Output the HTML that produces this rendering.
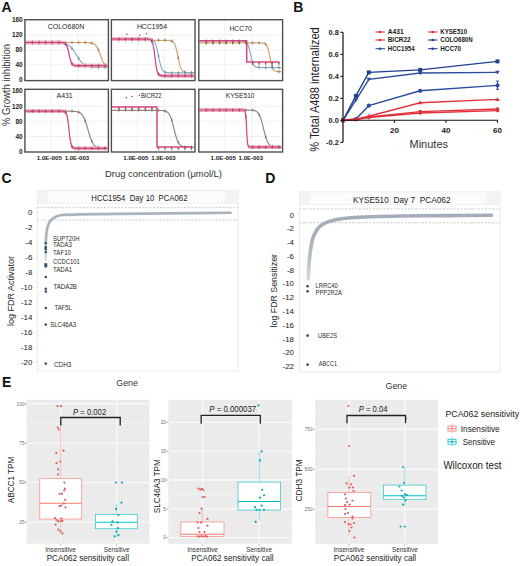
<!DOCTYPE html>
<html><head><meta charset="utf-8"><style>
html,body{margin:0;padding:0;background:#fff;}
svg{display:block;font-family:"Liberation Sans", sans-serif;}
</style></head><body>
<svg width="520" height="566" viewBox="0 0 520 566">
<rect width="520" height="566" fill="#fff"/>
<text x="1.6" y="11.8" font-size="14" font-weight="bold" fill="#111">A</text>
<line x1="24.9" y1="64.9" x2="108.4" y2="64.9" stroke="#f3eaea" stroke-width="0.8"/>
<line x1="24.9" y1="50.0" x2="108.4" y2="50.0" stroke="#f3eaea" stroke-width="0.8"/>
<line x1="24.9" y1="35.0" x2="108.4" y2="35.0" stroke="#f3eaea" stroke-width="0.8"/>
<line x1="50.9" y1="19.7" x2="50.9" y2="80.6" stroke="#eeeeee" stroke-width="0.8"/>
<line x1="77.9" y1="19.7" x2="77.9" y2="80.6" stroke="#eeeeee" stroke-width="0.8"/>
<path d="M25.4,42.5 L25.9,42.5 L26.4,42.5 L26.9,42.5 L27.4,42.5 L27.9,42.5 L28.4,42.5 L28.9,42.5 L29.4,42.5 L29.9,42.5 L30.4,42.5 L30.9,42.5 L31.4,42.5 L31.9,42.5 L32.4,42.5 L32.9,42.5 L33.4,42.5 L33.9,42.5 L34.4,42.5 L34.9,42.5 L35.4,42.5 L35.9,42.5 L36.4,42.5 L36.9,42.5 L37.4,42.5 L37.9,42.5 L38.4,42.5 L38.9,42.5 L39.4,42.5 L39.9,42.5 L40.4,42.5 L40.9,42.5 L41.4,42.5 L41.9,42.5 L42.4,42.5 L42.9,42.5 L43.4,42.5 L43.9,42.5 L44.4,42.5 L44.9,42.5 L45.4,42.5 L45.9,42.5 L46.4,42.5 L46.9,42.5 L47.4,42.5 L47.9,42.5 L48.4,42.5 L48.9,42.5 L49.4,42.5 L49.9,42.5 L50.4,42.5 L50.9,42.5 L51.4,42.5 L51.9,42.5 L52.4,42.5 L52.9,42.5 L53.4,42.5 L53.9,42.5 L54.4,42.5 L54.9,42.5 L55.4,42.5 L55.9,42.5 L56.4,42.5 L56.9,42.5 L57.4,42.5 L57.9,42.5 L58.4,42.5 L58.9,42.5 L59.4,42.5 L59.9,42.5 L60.4,42.5 L60.9,42.5 L61.4,42.5 L61.9,42.5 L62.4,42.5 L62.9,42.5 L63.4,42.5 L63.9,42.5 L64.4,42.5 L64.9,42.5 L65.4,42.5 L65.9,42.5 L66.4,42.5 L66.9,42.5 L67.4,42.5 L67.9,42.5 L68.4,42.5 L68.9,42.5 L69.4,42.5 L69.9,42.5 L70.4,42.5 L70.9,42.5 L71.4,42.5 L71.9,42.5 L72.4,42.5 L72.9,42.5 L73.4,42.5 L73.9,42.5 L74.4,42.5 L74.9,42.5 L75.4,42.5 L75.9,42.5 L76.4,42.5 L76.9,42.5 L77.4,42.5 L77.9,42.5 L78.4,42.5 L78.9,42.5 L79.4,42.5 L79.9,42.5 L80.4,42.5 L80.9,42.5 L81.4,42.5 L81.9,42.5 L82.4,42.5 L82.9,42.5 L83.4,42.5 L83.9,42.5 L84.4,42.5 L84.9,42.5 L85.4,42.5 L85.9,42.6 L86.4,42.6 L86.9,42.6 L87.4,42.6 L87.9,42.6 L88.4,42.7 L88.9,42.7 L89.4,42.7 L89.9,42.8 L90.4,42.9 L90.9,42.9 L91.4,43.1 L91.9,43.2 L92.4,43.3 L92.9,43.5 L93.4,43.7 L93.9,44.0 L94.4,44.3 L94.9,44.7 L95.4,45.2 L95.9,45.8 L96.4,46.4 L96.9,47.2 L97.4,48.0 L97.9,49.0 L98.4,50.1 L98.9,51.2 L99.4,52.5 L99.9,53.8 L100.4,55.1 L100.9,56.5 L101.4,57.8 L101.9,59.1 L102.4,60.3 L102.9,61.4 L103.4,62.4 L103.9,63.3 L104.4,64.1 L104.9,64.8 L105.4,65.4 L105.9,65.9 L106.4,66.3 L106.9,66.7 L107.4,67.0" fill="none" stroke="#d2a268" stroke-width="1.2"/>
<line x1="32.4" y1="40.5" x2="32.4" y2="44.5" stroke="#8a7055" stroke-width="0.6" stroke-opacity="0.8"/>
<rect x="31.6" y="41.8" width="1.5" height="1.5" fill="#8a7055" fill-opacity="0.85"/>
<line x1="39.0" y1="40.5" x2="39.0" y2="44.5" stroke="#8a7055" stroke-width="0.6" stroke-opacity="0.8"/>
<rect x="38.2" y="41.8" width="1.5" height="1.5" fill="#8a7055" fill-opacity="0.85"/>
<line x1="45.6" y1="40.5" x2="45.6" y2="44.5" stroke="#8a7055" stroke-width="0.6" stroke-opacity="0.8"/>
<rect x="44.8" y="41.8" width="1.5" height="1.5" fill="#8a7055" fill-opacity="0.85"/>
<line x1="52.2" y1="40.5" x2="52.2" y2="44.5" stroke="#8a7055" stroke-width="0.6" stroke-opacity="0.8"/>
<rect x="51.4" y="41.8" width="1.5" height="1.5" fill="#8a7055" fill-opacity="0.85"/>
<line x1="58.8" y1="40.5" x2="58.8" y2="44.5" stroke="#8a7055" stroke-width="0.6" stroke-opacity="0.8"/>
<rect x="58.0" y="41.8" width="1.5" height="1.5" fill="#8a7055" fill-opacity="0.85"/>
<line x1="65.4" y1="40.5" x2="65.4" y2="44.5" stroke="#8a7055" stroke-width="0.6" stroke-opacity="0.8"/>
<rect x="64.7" y="41.8" width="1.5" height="1.5" fill="#8a7055" fill-opacity="0.85"/>
<line x1="72.0" y1="40.5" x2="72.0" y2="44.5" stroke="#8a7055" stroke-width="0.6" stroke-opacity="0.8"/>
<rect x="71.2" y="41.8" width="1.5" height="1.5" fill="#8a7055" fill-opacity="0.85"/>
<line x1="78.6" y1="40.5" x2="78.6" y2="44.5" stroke="#8a7055" stroke-width="0.6" stroke-opacity="0.8"/>
<rect x="77.8" y="41.8" width="1.5" height="1.5" fill="#8a7055" fill-opacity="0.85"/>
<line x1="85.2" y1="40.5" x2="85.2" y2="44.5" stroke="#8a7055" stroke-width="0.6" stroke-opacity="0.8"/>
<rect x="84.4" y="41.8" width="1.5" height="1.5" fill="#8a7055" fill-opacity="0.85"/>
<line x1="91.8" y1="41.2" x2="91.8" y2="45.2" stroke="#8a7055" stroke-width="0.6" stroke-opacity="0.8"/>
<rect x="91.0" y="42.4" width="1.5" height="1.5" fill="#8a7055" fill-opacity="0.85"/>
<line x1="98.4" y1="48.1" x2="98.4" y2="52.1" stroke="#8a7055" stroke-width="0.6" stroke-opacity="0.8"/>
<rect x="97.7" y="49.3" width="1.5" height="1.5" fill="#8a7055" fill-opacity="0.85"/>
<line x1="105.0" y1="62.9" x2="105.0" y2="66.9" stroke="#8a7055" stroke-width="0.6" stroke-opacity="0.8"/>
<rect x="104.2" y="64.2" width="1.5" height="1.5" fill="#8a7055" fill-opacity="0.85"/>
<path d="M25.4,42.5 L25.9,42.5 L26.4,42.5 L26.9,42.5 L27.4,42.5 L27.9,42.5 L28.4,42.5 L28.9,42.5 L29.4,42.5 L29.9,42.5 L30.4,42.5 L30.9,42.5 L31.4,42.5 L31.9,42.5 L32.4,42.5 L32.9,42.5 L33.4,42.5 L33.9,42.5 L34.4,42.5 L34.9,42.5 L35.4,42.5 L35.9,42.5 L36.4,42.5 L36.9,42.5 L37.4,42.5 L37.9,42.5 L38.4,42.5 L38.9,42.5 L39.4,42.5 L39.9,42.5 L40.4,42.5 L40.9,42.5 L41.4,42.5 L41.9,42.5 L42.4,42.5 L42.9,42.5 L43.4,42.5 L43.9,42.5 L44.4,42.5 L44.9,42.5 L45.4,42.5 L45.9,42.5 L46.4,42.5 L46.9,42.5 L47.4,42.5 L47.9,42.5 L48.4,42.5 L48.9,42.5 L49.4,42.5 L49.9,42.5 L50.4,42.5 L50.9,42.5 L51.4,42.5 L51.9,42.5 L52.4,42.5 L52.9,42.6 L53.4,42.6 L53.9,42.6 L54.4,42.6 L54.9,42.6 L55.4,42.6 L55.9,42.6 L56.4,42.6 L56.9,42.7 L57.4,42.7 L57.9,42.7 L58.4,42.7 L58.9,42.8 L59.4,42.8 L59.9,42.8 L60.4,42.9 L60.9,42.9 L61.4,43.0 L61.9,43.1 L62.4,43.1 L62.9,43.2 L63.4,43.3 L63.9,43.4 L64.4,43.5 L64.9,43.7 L65.4,43.8 L65.9,44.0 L66.4,44.2 L66.9,44.4 L67.4,44.7 L67.9,44.9 L68.4,45.2 L68.9,45.6 L69.4,45.9 L69.9,46.3 L70.4,46.8 L70.9,47.2 L71.4,47.8 L71.9,48.3 L72.4,48.9 L72.9,49.6 L73.4,50.2 L73.9,50.9 L74.4,51.7 L74.9,52.5 L75.4,53.2 L75.9,54.1 L76.4,54.9 L76.9,55.7 L77.4,56.5 L77.9,57.3 L78.4,58.1 L78.9,58.8 L79.4,59.5 L79.9,60.2 L80.4,60.9 L80.9,61.5 L81.4,62.1 L81.9,62.6 L82.4,63.1 L82.9,63.6 L83.4,64.0 L83.9,64.4 L84.4,64.7 L84.9,65.0 L85.4,65.3 L85.9,65.6 L86.4,65.8 L86.9,66.0 L87.4,66.2 L87.9,66.3 L88.4,66.5 L88.9,66.6 L89.4,66.7 L89.9,66.8 L90.4,66.9 L90.9,67.0 L91.4,67.0 L91.9,67.1 L92.4,67.2 L92.9,67.2 L93.4,67.3 L93.9,67.3 L94.4,67.3 L94.9,67.4 L95.4,67.4 L95.9,67.4 L96.4,67.4 L96.9,67.4 L97.4,67.4 L97.9,67.5 L98.4,67.5 L98.9,67.5 L99.4,67.5 L99.9,67.5 L100.4,67.5 L100.9,67.5 L101.4,67.5 L101.9,67.5 L102.4,67.5 L102.9,67.5 L103.4,67.5 L103.9,67.5 L104.4,67.5 L104.9,67.5 L105.4,67.5 L105.9,67.5 L106.4,67.5 L106.9,67.5 L107.4,67.5" fill="none" stroke="#86afc6" stroke-width="1.2"/>
<line x1="32.4" y1="40.5" x2="32.4" y2="44.5" stroke="#6f7f88" stroke-width="0.6" stroke-opacity="0.8"/>
<rect x="31.6" y="41.8" width="1.5" height="1.5" fill="#6f7f88" fill-opacity="0.85"/>
<line x1="39.0" y1="40.5" x2="39.0" y2="44.5" stroke="#6f7f88" stroke-width="0.6" stroke-opacity="0.8"/>
<rect x="38.2" y="41.8" width="1.5" height="1.5" fill="#6f7f88" fill-opacity="0.85"/>
<line x1="45.6" y1="40.5" x2="45.6" y2="44.5" stroke="#6f7f88" stroke-width="0.6" stroke-opacity="0.8"/>
<rect x="44.8" y="41.8" width="1.5" height="1.5" fill="#6f7f88" fill-opacity="0.85"/>
<line x1="52.2" y1="40.5" x2="52.2" y2="44.5" stroke="#6f7f88" stroke-width="0.6" stroke-opacity="0.8"/>
<rect x="51.4" y="41.8" width="1.5" height="1.5" fill="#6f7f88" fill-opacity="0.85"/>
<line x1="58.8" y1="40.7" x2="58.8" y2="44.7" stroke="#6f7f88" stroke-width="0.6" stroke-opacity="0.8"/>
<rect x="58.0" y="42.0" width="1.5" height="1.5" fill="#6f7f88" fill-opacity="0.85"/>
<line x1="65.4" y1="41.8" x2="65.4" y2="45.8" stroke="#6f7f88" stroke-width="0.6" stroke-opacity="0.8"/>
<rect x="64.7" y="43.1" width="1.5" height="1.5" fill="#6f7f88" fill-opacity="0.85"/>
<line x1="72.0" y1="46.4" x2="72.0" y2="50.4" stroke="#6f7f88" stroke-width="0.6" stroke-opacity="0.8"/>
<rect x="71.2" y="47.7" width="1.5" height="1.5" fill="#6f7f88" fill-opacity="0.85"/>
<line x1="78.6" y1="56.4" x2="78.6" y2="60.4" stroke="#6f7f88" stroke-width="0.6" stroke-opacity="0.8"/>
<rect x="77.8" y="57.6" width="1.5" height="1.5" fill="#6f7f88" fill-opacity="0.85"/>
<line x1="85.2" y1="63.2" x2="85.2" y2="67.2" stroke="#6f7f88" stroke-width="0.6" stroke-opacity="0.8"/>
<rect x="84.4" y="64.4" width="1.5" height="1.5" fill="#6f7f88" fill-opacity="0.85"/>
<line x1="91.8" y1="65.1" x2="91.8" y2="69.1" stroke="#6f7f88" stroke-width="0.6" stroke-opacity="0.8"/>
<rect x="91.0" y="66.3" width="1.5" height="1.5" fill="#6f7f88" fill-opacity="0.85"/>
<line x1="98.4" y1="65.5" x2="98.4" y2="69.5" stroke="#6f7f88" stroke-width="0.6" stroke-opacity="0.8"/>
<rect x="97.7" y="66.7" width="1.5" height="1.5" fill="#6f7f88" fill-opacity="0.85"/>
<line x1="105.0" y1="65.5" x2="105.0" y2="69.5" stroke="#6f7f88" stroke-width="0.6" stroke-opacity="0.8"/>
<rect x="104.2" y="66.8" width="1.5" height="1.5" fill="#6f7f88" fill-opacity="0.85"/>
<path d="M25.4,40.6 L25.9,40.6 L26.4,40.6 L26.9,40.6 L27.4,40.6 L27.9,40.6 L28.4,40.6 L28.9,40.6 L29.4,40.6 L29.9,40.6 L30.4,40.6 L30.9,40.6 L31.4,40.6 L31.9,40.6 L32.4,40.6 L32.9,40.6 L33.4,40.6 L33.9,40.6 L34.4,40.6 L34.9,40.6 L35.4,40.6 L35.9,40.6 L36.4,40.6 L36.9,40.6 L37.4,40.6 L37.9,40.6 L38.4,40.6 L38.9,40.6 L39.4,40.6 L39.9,40.6 L40.4,40.6 L40.9,40.6 L41.4,40.6 L41.9,40.6 L42.4,40.6 L42.9,40.6 L43.4,40.6 L43.9,40.6 L44.4,40.6 L44.9,40.6 L45.4,40.6 L45.9,40.6 L46.4,40.6 L46.9,40.6 L47.4,40.6 L47.9,40.6 L48.4,40.6 L48.9,40.6 L49.4,40.6 L49.9,40.6 L50.4,40.6 L50.9,40.6 L51.4,40.6 L51.9,40.6 L52.4,40.6 L52.9,40.6 L53.4,40.6 L53.9,40.6 L54.4,40.6 L54.9,40.6 L55.4,40.6 L55.9,40.6 L56.4,40.6 L56.9,40.6 L57.4,40.6 L57.9,40.6 L58.4,40.6 L58.9,40.6 L59.4,40.6 L59.9,40.6 L60.4,40.6 L60.9,40.6 L61.4,40.7 L61.9,40.7 L62.4,40.7 L62.9,40.8 L63.4,40.9 L63.9,41.0 L64.4,41.2 L64.9,41.4 L65.4,41.8 L65.9,42.4 L66.4,43.2 L66.9,44.2 L67.4,45.6 L67.9,47.4 L68.4,49.5 L68.9,51.7 L69.4,54.0 L69.9,56.2 L70.4,58.1 L70.9,59.6 L71.4,60.8 L71.9,61.7 L72.4,62.4 L72.9,62.8 L73.4,63.1 L73.9,63.3 L74.4,63.5 L74.9,63.6 L75.4,63.7 L75.9,63.7 L76.4,63.7 L76.9,63.7 L77.4,63.8 L77.9,63.8 L78.4,63.8 L78.9,63.8 L79.4,63.8 L79.9,63.8 L80.4,63.8 L80.9,63.8 L81.4,63.8 L81.9,63.8 L82.4,63.8 L82.9,63.8 L83.4,63.8 L83.9,63.8 L84.4,63.8 L84.9,63.8 L85.4,63.8 L85.9,63.8 L86.4,63.8 L86.9,63.8 L87.4,63.8 L87.9,63.8 L88.4,63.8 L88.9,63.8 L89.4,63.8 L89.9,63.8 L90.4,63.8 L90.9,63.8 L91.4,63.8 L91.9,63.8 L92.4,63.8 L92.9,63.8 L93.4,63.8 L93.9,63.8 L94.4,63.8 L94.9,63.8 L95.4,63.8 L95.9,63.8 L96.4,63.8 L96.9,63.8 L97.4,63.8 L97.9,63.8 L98.4,63.8 L98.9,63.8 L99.4,63.8 L99.9,63.8 L100.4,63.8 L100.9,63.8 L101.4,63.8 L101.9,63.8 L102.4,63.8 L102.9,63.8 L103.4,63.8 L103.9,63.8 L104.4,63.8 L104.9,63.8 L105.4,63.8 L105.9,63.8 L106.4,63.8 L106.9,63.8 L107.4,63.8 L107.4,67.6 L106.9,67.6 L106.4,67.6 L105.9,67.6 L105.4,67.6 L104.9,67.6 L104.4,67.6 L103.9,67.6 L103.4,67.6 L102.9,67.6 L102.4,67.6 L101.9,67.6 L101.4,67.6 L100.9,67.6 L100.4,67.6 L99.9,67.6 L99.4,67.6 L98.9,67.6 L98.4,67.6 L97.9,67.6 L97.4,67.6 L96.9,67.6 L96.4,67.6 L95.9,67.6 L95.4,67.6 L94.9,67.6 L94.4,67.6 L93.9,67.6 L93.4,67.6 L92.9,67.6 L92.4,67.6 L91.9,67.6 L91.4,67.6 L90.9,67.6 L90.4,67.6 L89.9,67.6 L89.4,67.6 L88.9,67.6 L88.4,67.6 L87.9,67.6 L87.4,67.6 L86.9,67.6 L86.4,67.6 L85.9,67.6 L85.4,67.6 L84.9,67.6 L84.4,67.6 L83.9,67.6 L83.4,67.6 L82.9,67.6 L82.4,67.6 L81.9,67.6 L81.4,67.6 L80.9,67.6 L80.4,67.6 L79.9,67.6 L79.4,67.6 L78.9,67.6 L78.4,67.6 L77.9,67.6 L77.4,67.6 L76.9,67.5 L76.4,67.5 L75.9,67.5 L75.4,67.5 L74.9,67.4 L74.4,67.3 L73.9,67.1 L73.4,66.9 L72.9,66.6 L72.4,66.2 L71.9,65.5 L71.4,64.6 L70.9,63.4 L70.4,61.9 L69.9,60.0 L69.4,57.8 L68.9,55.5 L68.4,53.3 L67.9,51.2 L67.4,49.4 L66.9,48.0 L66.4,47.0 L65.9,46.2 L65.4,45.6 L64.9,45.2 L64.4,45.0 L63.9,44.8 L63.4,44.7 L62.9,44.6 L62.4,44.5 L61.9,44.5 L61.4,44.5 L60.9,44.4 L60.4,44.4 L59.9,44.4 L59.4,44.4 L58.9,44.4 L58.4,44.4 L57.9,44.4 L57.4,44.4 L56.9,44.4 L56.4,44.4 L55.9,44.4 L55.4,44.4 L54.9,44.4 L54.4,44.4 L53.9,44.4 L53.4,44.4 L52.9,44.4 L52.4,44.4 L51.9,44.4 L51.4,44.4 L50.9,44.4 L50.4,44.4 L49.9,44.4 L49.4,44.4 L48.9,44.4 L48.4,44.4 L47.9,44.4 L47.4,44.4 L46.9,44.4 L46.4,44.4 L45.9,44.4 L45.4,44.4 L44.9,44.4 L44.4,44.4 L43.9,44.4 L43.4,44.4 L42.9,44.4 L42.4,44.4 L41.9,44.4 L41.4,44.4 L40.9,44.4 L40.4,44.4 L39.9,44.4 L39.4,44.4 L38.9,44.4 L38.4,44.4 L37.9,44.4 L37.4,44.4 L36.9,44.4 L36.4,44.4 L35.9,44.4 L35.4,44.4 L34.9,44.4 L34.4,44.4 L33.9,44.4 L33.4,44.4 L32.9,44.4 L32.4,44.4 L31.9,44.4 L31.4,44.4 L30.9,44.4 L30.4,44.4 L29.9,44.4 L29.4,44.4 L28.9,44.4 L28.4,44.4 L27.9,44.4 L27.4,44.4 L26.9,44.4 L26.4,44.4 L25.9,44.4 L25.4,44.4Z" fill="#eeabc3"/>
<path d="M25.4,42.5 L25.9,42.5 L26.4,42.5 L26.9,42.5 L27.4,42.5 L27.9,42.5 L28.4,42.5 L28.9,42.5 L29.4,42.5 L29.9,42.5 L30.4,42.5 L30.9,42.5 L31.4,42.5 L31.9,42.5 L32.4,42.5 L32.9,42.5 L33.4,42.5 L33.9,42.5 L34.4,42.5 L34.9,42.5 L35.4,42.5 L35.9,42.5 L36.4,42.5 L36.9,42.5 L37.4,42.5 L37.9,42.5 L38.4,42.5 L38.9,42.5 L39.4,42.5 L39.9,42.5 L40.4,42.5 L40.9,42.5 L41.4,42.5 L41.9,42.5 L42.4,42.5 L42.9,42.5 L43.4,42.5 L43.9,42.5 L44.4,42.5 L44.9,42.5 L45.4,42.5 L45.9,42.5 L46.4,42.5 L46.9,42.5 L47.4,42.5 L47.9,42.5 L48.4,42.5 L48.9,42.5 L49.4,42.5 L49.9,42.5 L50.4,42.5 L50.9,42.5 L51.4,42.5 L51.9,42.5 L52.4,42.5 L52.9,42.5 L53.4,42.5 L53.9,42.5 L54.4,42.5 L54.9,42.5 L55.4,42.5 L55.9,42.5 L56.4,42.5 L56.9,42.5 L57.4,42.5 L57.9,42.5 L58.4,42.5 L58.9,42.5 L59.4,42.5 L59.9,42.5 L60.4,42.5 L60.9,42.5 L61.4,42.6 L61.9,42.6 L62.4,42.6 L62.9,42.7 L63.4,42.8 L63.9,42.9 L64.4,43.1 L64.9,43.3 L65.4,43.7 L65.9,44.3 L66.4,45.1 L66.9,46.1 L67.4,47.5 L67.9,49.3 L68.4,51.4 L68.9,53.6 L69.4,55.9 L69.9,58.1 L70.4,60.0 L70.9,61.5 L71.4,62.7 L71.9,63.6 L72.4,64.3 L72.9,64.7 L73.4,65.0 L73.9,65.2 L74.4,65.4 L74.9,65.5 L75.4,65.6 L75.9,65.6 L76.4,65.6 L76.9,65.6 L77.4,65.7 L77.9,65.7 L78.4,65.7 L78.9,65.7 L79.4,65.7 L79.9,65.7 L80.4,65.7 L80.9,65.7 L81.4,65.7 L81.9,65.7 L82.4,65.7 L82.9,65.7 L83.4,65.7 L83.9,65.7 L84.4,65.7 L84.9,65.7 L85.4,65.7 L85.9,65.7 L86.4,65.7 L86.9,65.7 L87.4,65.7 L87.9,65.7 L88.4,65.7 L88.9,65.7 L89.4,65.7 L89.9,65.7 L90.4,65.7 L90.9,65.7 L91.4,65.7 L91.9,65.7 L92.4,65.7 L92.9,65.7 L93.4,65.7 L93.9,65.7 L94.4,65.7 L94.9,65.7 L95.4,65.7 L95.9,65.7 L96.4,65.7 L96.9,65.7 L97.4,65.7 L97.9,65.7 L98.4,65.7 L98.9,65.7 L99.4,65.7 L99.9,65.7 L100.4,65.7 L100.9,65.7 L101.4,65.7 L101.9,65.7 L102.4,65.7 L102.9,65.7 L103.4,65.7 L103.9,65.7 L104.4,65.7 L104.9,65.7 L105.4,65.7 L105.9,65.7 L106.4,65.7 L106.9,65.7 L107.4,65.7" fill="none" stroke="#d8467c" stroke-width="1.2"/>
<line x1="32.4" y1="40.5" x2="32.4" y2="44.5" stroke="#8a4a5a" stroke-width="0.6" stroke-opacity="0.8"/>
<rect x="31.6" y="41.8" width="1.5" height="1.5" fill="#8a4a5a" fill-opacity="0.85"/>
<line x1="39.0" y1="40.5" x2="39.0" y2="44.5" stroke="#8a4a5a" stroke-width="0.6" stroke-opacity="0.8"/>
<rect x="38.2" y="41.8" width="1.5" height="1.5" fill="#8a4a5a" fill-opacity="0.85"/>
<line x1="45.6" y1="40.5" x2="45.6" y2="44.5" stroke="#8a4a5a" stroke-width="0.6" stroke-opacity="0.8"/>
<rect x="44.8" y="41.8" width="1.5" height="1.5" fill="#8a4a5a" fill-opacity="0.85"/>
<line x1="52.2" y1="40.5" x2="52.2" y2="44.5" stroke="#8a4a5a" stroke-width="0.6" stroke-opacity="0.8"/>
<rect x="51.4" y="41.8" width="1.5" height="1.5" fill="#8a4a5a" fill-opacity="0.85"/>
<line x1="58.8" y1="40.5" x2="58.8" y2="44.5" stroke="#8a4a5a" stroke-width="0.6" stroke-opacity="0.8"/>
<rect x="58.0" y="41.8" width="1.5" height="1.5" fill="#8a4a5a" fill-opacity="0.85"/>
<line x1="65.4" y1="41.7" x2="65.4" y2="45.7" stroke="#8a4a5a" stroke-width="0.6" stroke-opacity="0.8"/>
<rect x="64.7" y="43.0" width="1.5" height="1.5" fill="#8a4a5a" fill-opacity="0.85"/>
<line x1="72.0" y1="61.8" x2="72.0" y2="65.8" stroke="#8a4a5a" stroke-width="0.6" stroke-opacity="0.8"/>
<rect x="71.2" y="63.0" width="1.5" height="1.5" fill="#8a4a5a" fill-opacity="0.85"/>
<line x1="78.6" y1="63.7" x2="78.6" y2="67.7" stroke="#8a4a5a" stroke-width="0.6" stroke-opacity="0.8"/>
<rect x="77.8" y="64.9" width="1.5" height="1.5" fill="#8a4a5a" fill-opacity="0.85"/>
<line x1="85.2" y1="63.7" x2="85.2" y2="67.7" stroke="#8a4a5a" stroke-width="0.6" stroke-opacity="0.8"/>
<rect x="84.4" y="64.9" width="1.5" height="1.5" fill="#8a4a5a" fill-opacity="0.85"/>
<line x1="91.8" y1="63.7" x2="91.8" y2="67.7" stroke="#8a4a5a" stroke-width="0.6" stroke-opacity="0.8"/>
<rect x="91.0" y="64.9" width="1.5" height="1.5" fill="#8a4a5a" fill-opacity="0.85"/>
<line x1="98.4" y1="63.7" x2="98.4" y2="67.7" stroke="#8a4a5a" stroke-width="0.6" stroke-opacity="0.8"/>
<rect x="97.7" y="64.9" width="1.5" height="1.5" fill="#8a4a5a" fill-opacity="0.85"/>
<line x1="105.0" y1="63.7" x2="105.0" y2="67.7" stroke="#8a4a5a" stroke-width="0.6" stroke-opacity="0.8"/>
<rect x="104.2" y="64.9" width="1.5" height="1.5" fill="#8a4a5a" fill-opacity="0.85"/>
<rect x="24.9" y="19.7" width="83.5" height="60.89999999999999" fill="none" stroke="#4f4f4f" stroke-width="1.4"/>
<text x="47.8" y="29.0" font-size="7.4" textLength="36.4" lengthAdjust="spacingAndGlyphs" fill="#252525">COLO680N</text>
<line x1="111.4" y1="64.9" x2="195.0" y2="64.9" stroke="#f3eaea" stroke-width="0.8"/>
<line x1="111.4" y1="50.0" x2="195.0" y2="50.0" stroke="#f3eaea" stroke-width="0.8"/>
<line x1="111.4" y1="35.0" x2="195.0" y2="35.0" stroke="#f3eaea" stroke-width="0.8"/>
<line x1="137.4" y1="19.7" x2="137.4" y2="80.6" stroke="#eeeeee" stroke-width="0.8"/>
<line x1="164.4" y1="19.7" x2="164.4" y2="80.6" stroke="#eeeeee" stroke-width="0.8"/>
<path d="M111.9,40.3 L112.4,40.3 L112.9,40.3 L113.4,40.3 L113.9,40.3 L114.4,40.3 L114.9,40.3 L115.4,40.3 L115.9,40.3 L116.4,40.3 L116.9,40.3 L117.4,40.3 L117.9,40.3 L118.4,40.3 L118.9,40.3 L119.4,40.3 L119.9,40.3 L120.4,40.3 L120.9,40.3 L121.4,40.3 L121.9,40.3 L122.4,40.3 L122.9,40.3 L123.4,40.3 L123.9,40.3 L124.4,40.3 L124.9,40.3 L125.4,40.3 L125.9,40.3 L126.4,40.3 L126.9,40.3 L127.4,40.3 L127.9,40.3 L128.4,40.3 L128.9,40.3 L129.4,40.3 L129.9,40.3 L130.4,40.3 L130.9,40.3 L131.4,40.3 L131.9,40.3 L132.4,40.3 L132.9,40.3 L133.4,40.3 L133.9,40.3 L134.4,40.3 L134.9,40.3 L135.4,40.3 L135.9,40.3 L136.4,40.3 L136.9,40.3 L137.4,40.3 L137.9,40.3 L138.4,40.3 L138.9,40.3 L139.4,40.3 L139.9,40.3 L140.4,40.3 L140.9,40.3 L141.4,40.3 L141.9,40.3 L142.4,40.3 L142.9,40.3 L143.4,40.3 L143.9,40.3 L144.4,40.3 L144.9,40.3 L145.4,40.3 L145.9,40.3 L146.4,40.3 L146.9,40.3 L147.4,40.3 L147.9,40.3 L148.4,40.3 L148.9,40.3 L149.4,40.3 L149.9,40.3 L150.4,40.3 L150.9,40.3 L151.4,40.3 L151.9,40.3 L152.4,40.3 L152.9,40.3 L153.4,40.3 L153.9,40.3 L154.4,40.3 L154.9,40.3 L155.4,40.3 L155.9,40.3 L156.4,40.3 L156.9,40.3 L157.4,40.3 L157.9,40.3 L158.4,40.3 L158.9,40.3 L159.4,40.3 L159.9,40.3 L160.4,40.3 L160.9,40.3 L161.4,40.3 L161.9,40.3 L162.4,40.3 L162.9,40.3 L163.4,40.3 L163.9,40.3 L164.4,40.3 L164.9,40.3 L165.4,40.3 L165.9,40.3 L166.4,40.3 L166.9,40.3 L167.4,40.3 L167.9,40.3 L168.4,40.4 L168.9,40.4 L169.4,40.4 L169.9,40.5 L170.4,40.6 L170.9,40.7 L171.4,40.9 L171.9,41.1 L172.4,41.3 L172.9,41.7 L173.4,42.2 L173.9,42.8 L174.4,43.6 L174.9,44.6 L175.4,45.9 L175.9,47.4 L176.4,49.3 L176.9,51.3 L177.4,53.6 L177.9,56.0 L178.4,58.5 L178.9,60.8 L179.4,63.0 L179.9,64.9 L180.4,66.6 L180.9,67.9 L181.4,69.0 L181.9,69.9 L182.4,70.6 L182.9,71.2 L183.4,71.6 L183.9,71.9 L184.4,72.1 L184.9,72.3 L185.4,72.4 L185.9,72.5 L186.4,72.6 L186.9,72.6 L187.4,72.7 L187.9,72.7 L188.4,72.7 L188.9,72.7 L189.4,72.8 L189.9,72.8 L190.4,72.8 L190.9,72.8 L191.4,72.8 L191.9,72.8 L192.4,72.8 L192.9,72.8 L193.4,72.8 L193.9,72.8" fill="none" stroke="#d2a268" stroke-width="1.2"/>
<line x1="118.9" y1="38.3" x2="118.9" y2="42.3" stroke="#8a7055" stroke-width="0.6" stroke-opacity="0.8"/>
<rect x="118.2" y="39.5" width="1.5" height="1.5" fill="#8a7055" fill-opacity="0.85"/>
<line x1="125.5" y1="38.3" x2="125.5" y2="42.3" stroke="#8a7055" stroke-width="0.6" stroke-opacity="0.8"/>
<rect x="124.8" y="39.5" width="1.5" height="1.5" fill="#8a7055" fill-opacity="0.85"/>
<line x1="132.1" y1="38.3" x2="132.1" y2="42.3" stroke="#8a7055" stroke-width="0.6" stroke-opacity="0.8"/>
<rect x="131.3" y="39.5" width="1.5" height="1.5" fill="#8a7055" fill-opacity="0.85"/>
<line x1="138.7" y1="38.3" x2="138.7" y2="42.3" stroke="#8a7055" stroke-width="0.6" stroke-opacity="0.8"/>
<rect x="137.9" y="39.5" width="1.5" height="1.5" fill="#8a7055" fill-opacity="0.85"/>
<line x1="145.3" y1="38.3" x2="145.3" y2="42.3" stroke="#8a7055" stroke-width="0.6" stroke-opacity="0.8"/>
<rect x="144.6" y="39.5" width="1.5" height="1.5" fill="#8a7055" fill-opacity="0.85"/>
<line x1="151.9" y1="38.3" x2="151.9" y2="42.3" stroke="#8a7055" stroke-width="0.6" stroke-opacity="0.8"/>
<rect x="151.2" y="39.5" width="1.5" height="1.5" fill="#8a7055" fill-opacity="0.85"/>
<line x1="158.5" y1="38.3" x2="158.5" y2="42.3" stroke="#8a7055" stroke-width="0.6" stroke-opacity="0.8"/>
<rect x="157.8" y="39.5" width="1.5" height="1.5" fill="#8a7055" fill-opacity="0.85"/>
<line x1="165.1" y1="38.3" x2="165.1" y2="42.3" stroke="#8a7055" stroke-width="0.6" stroke-opacity="0.8"/>
<rect x="164.3" y="39.5" width="1.5" height="1.5" fill="#8a7055" fill-opacity="0.85"/>
<line x1="171.7" y1="39.0" x2="171.7" y2="43.0" stroke="#8a7055" stroke-width="0.6" stroke-opacity="0.8"/>
<rect x="170.9" y="40.2" width="1.5" height="1.5" fill="#8a7055" fill-opacity="0.85"/>
<line x1="178.3" y1="56.0" x2="178.3" y2="60.0" stroke="#8a7055" stroke-width="0.6" stroke-opacity="0.8"/>
<rect x="177.6" y="57.2" width="1.5" height="1.5" fill="#8a7055" fill-opacity="0.85"/>
<line x1="184.9" y1="70.3" x2="184.9" y2="74.3" stroke="#8a7055" stroke-width="0.6" stroke-opacity="0.8"/>
<rect x="184.2" y="71.5" width="1.5" height="1.5" fill="#8a7055" fill-opacity="0.85"/>
<line x1="191.5" y1="70.8" x2="191.5" y2="74.8" stroke="#8a7055" stroke-width="0.6" stroke-opacity="0.8"/>
<rect x="190.8" y="72.0" width="1.5" height="1.5" fill="#8a7055" fill-opacity="0.85"/>
<path d="M111.9,39.1 L112.4,39.1 L112.9,39.1 L113.4,39.1 L113.9,39.1 L114.4,39.1 L114.9,39.1 L115.4,39.1 L115.9,39.1 L116.4,39.1 L116.9,39.1 L117.4,39.1 L117.9,39.1 L118.4,39.1 L118.9,39.1 L119.4,39.1 L119.9,39.1 L120.4,39.1 L120.9,39.1 L121.4,39.1 L121.9,39.1 L122.4,39.1 L122.9,39.1 L123.4,39.1 L123.9,39.1 L124.4,39.1 L124.9,39.1 L125.4,39.1 L125.9,39.1 L126.4,39.1 L126.9,39.1 L127.4,39.1 L127.9,39.1 L128.4,39.1 L128.9,39.1 L129.4,39.1 L129.9,39.1 L130.4,39.1 L130.9,39.1 L131.4,39.1 L131.9,39.1 L132.4,39.1 L132.9,39.1 L133.4,39.1 L133.9,39.1 L134.4,39.1 L134.9,39.1 L135.4,39.1 L135.9,39.1 L136.4,39.1 L136.9,39.1 L137.4,39.1 L137.9,39.1 L138.4,39.1 L138.9,39.1 L139.4,39.1 L139.9,39.1 L140.4,39.1 L140.9,39.1 L141.4,39.1 L141.9,39.1 L142.4,39.1 L142.9,39.1 L143.4,39.1 L143.9,39.1 L144.4,39.1 L144.9,39.1 L145.4,39.1 L145.9,39.2 L146.4,39.2 L146.9,39.2 L147.4,39.2 L147.9,39.2 L148.4,39.2 L148.9,39.2 L149.4,39.3 L149.9,39.3 L150.4,39.4 L150.9,39.5 L151.4,39.6 L151.9,39.8 L152.4,40.0 L152.9,40.3 L153.4,40.6 L153.9,41.1 L154.4,41.8 L154.9,42.6 L155.4,43.7 L155.9,45.0 L156.4,46.6 L156.9,48.5 L157.4,50.6 L157.9,53.0 L158.4,55.5 L158.9,58.0 L159.4,60.4 L159.9,62.6 L160.4,64.6 L160.9,66.3 L161.4,67.8 L161.9,68.9 L162.4,69.8 L162.9,70.6 L163.4,71.1 L163.9,71.5 L164.4,71.8 L164.9,72.1 L165.4,72.3 L165.9,72.4 L166.4,72.5 L166.9,72.6 L167.4,72.6 L167.9,72.7 L168.4,72.7 L168.9,72.7 L169.4,72.7 L169.9,72.8 L170.4,72.8 L170.9,72.8 L171.4,72.8 L171.9,72.8 L172.4,72.8 L172.9,72.8 L173.4,72.8 L173.9,72.8 L174.4,72.8 L174.9,72.8 L175.4,72.8 L175.9,72.8 L176.4,72.8 L176.9,72.8 L177.4,72.8 L177.9,72.8 L178.4,72.8 L178.9,72.8 L179.4,72.8 L179.9,72.8 L180.4,72.8 L180.9,72.8 L181.4,72.8 L181.9,72.8 L182.4,72.8 L182.9,72.8 L183.4,72.8 L183.9,72.8 L184.4,72.8 L184.9,72.8 L185.4,72.8 L185.9,72.8 L186.4,72.8 L186.9,72.8 L187.4,72.8 L187.9,72.8 L188.4,72.8 L188.9,72.8 L189.4,72.8 L189.9,72.8 L190.4,72.8 L190.9,72.8 L191.4,72.8 L191.9,72.8 L192.4,72.8 L192.9,72.8 L193.4,72.8 L193.9,72.8" fill="none" stroke="#86afc6" stroke-width="1.2"/>
<line x1="118.9" y1="37.1" x2="118.9" y2="41.1" stroke="#6f7f88" stroke-width="0.6" stroke-opacity="0.8"/>
<rect x="118.2" y="38.4" width="1.5" height="1.5" fill="#6f7f88" fill-opacity="0.85"/>
<line x1="125.5" y1="37.1" x2="125.5" y2="41.1" stroke="#6f7f88" stroke-width="0.6" stroke-opacity="0.8"/>
<rect x="124.8" y="38.4" width="1.5" height="1.5" fill="#6f7f88" fill-opacity="0.85"/>
<line x1="132.1" y1="37.1" x2="132.1" y2="41.1" stroke="#6f7f88" stroke-width="0.6" stroke-opacity="0.8"/>
<rect x="131.3" y="38.4" width="1.5" height="1.5" fill="#6f7f88" fill-opacity="0.85"/>
<line x1="138.7" y1="37.1" x2="138.7" y2="41.1" stroke="#6f7f88" stroke-width="0.6" stroke-opacity="0.8"/>
<rect x="137.9" y="38.4" width="1.5" height="1.5" fill="#6f7f88" fill-opacity="0.85"/>
<line x1="145.3" y1="37.1" x2="145.3" y2="41.1" stroke="#6f7f88" stroke-width="0.6" stroke-opacity="0.8"/>
<rect x="144.6" y="38.4" width="1.5" height="1.5" fill="#6f7f88" fill-opacity="0.85"/>
<line x1="151.9" y1="37.8" x2="151.9" y2="41.8" stroke="#6f7f88" stroke-width="0.6" stroke-opacity="0.8"/>
<rect x="151.2" y="39.0" width="1.5" height="1.5" fill="#6f7f88" fill-opacity="0.85"/>
<line x1="158.5" y1="54.0" x2="158.5" y2="58.0" stroke="#6f7f88" stroke-width="0.6" stroke-opacity="0.8"/>
<rect x="157.8" y="55.2" width="1.5" height="1.5" fill="#6f7f88" fill-opacity="0.85"/>
<line x1="165.1" y1="70.2" x2="165.1" y2="74.2" stroke="#6f7f88" stroke-width="0.6" stroke-opacity="0.8"/>
<rect x="164.3" y="71.4" width="1.5" height="1.5" fill="#6f7f88" fill-opacity="0.85"/>
<line x1="171.7" y1="70.8" x2="171.7" y2="74.8" stroke="#6f7f88" stroke-width="0.6" stroke-opacity="0.8"/>
<rect x="170.9" y="72.0" width="1.5" height="1.5" fill="#6f7f88" fill-opacity="0.85"/>
<line x1="178.3" y1="70.8" x2="178.3" y2="74.8" stroke="#6f7f88" stroke-width="0.6" stroke-opacity="0.8"/>
<rect x="177.6" y="72.0" width="1.5" height="1.5" fill="#6f7f88" fill-opacity="0.85"/>
<line x1="184.9" y1="70.8" x2="184.9" y2="74.8" stroke="#6f7f88" stroke-width="0.6" stroke-opacity="0.8"/>
<rect x="184.2" y="72.0" width="1.5" height="1.5" fill="#6f7f88" fill-opacity="0.85"/>
<line x1="191.5" y1="70.8" x2="191.5" y2="74.8" stroke="#6f7f88" stroke-width="0.6" stroke-opacity="0.8"/>
<rect x="190.8" y="72.0" width="1.5" height="1.5" fill="#6f7f88" fill-opacity="0.85"/>
<path d="M111.9,37.2 L112.4,37.2 L112.9,37.2 L113.4,37.2 L113.9,37.2 L114.4,37.2 L114.9,37.2 L115.4,37.2 L115.9,37.2 L116.4,37.2 L116.9,37.2 L117.4,37.2 L117.9,37.2 L118.4,37.2 L118.9,37.2 L119.4,37.2 L119.9,37.2 L120.4,37.2 L120.9,37.2 L121.4,37.2 L121.9,37.2 L122.4,37.2 L122.9,37.2 L123.4,37.2 L123.9,37.2 L124.4,37.2 L124.9,37.2 L125.4,37.2 L125.9,37.2 L126.4,37.2 L126.9,37.2 L127.4,37.2 L127.9,37.2 L128.4,37.2 L128.9,37.2 L129.4,37.2 L129.9,37.2 L130.4,37.2 L130.9,37.2 L131.4,37.2 L131.9,37.2 L132.4,37.2 L132.9,37.2 L133.4,37.2 L133.9,37.2 L134.4,37.2 L134.9,37.2 L135.4,37.2 L135.9,37.2 L136.4,37.2 L136.9,37.2 L137.4,37.2 L137.9,37.2 L138.4,37.2 L138.9,37.2 L139.4,37.2 L139.9,37.2 L140.4,37.2 L140.9,37.2 L141.4,37.2 L141.9,37.2 L142.4,37.2 L142.9,37.2 L143.4,37.2 L143.9,37.2 L144.4,37.2 L144.9,37.2 L145.4,37.2 L145.9,37.2 L146.4,37.2 L146.9,37.3 L147.4,37.3 L147.9,37.3 L148.4,37.3 L148.9,37.4 L149.4,37.5 L149.9,37.6 L150.4,37.8 L150.9,38.1 L151.4,38.6 L151.9,39.4 L152.4,40.5 L152.9,42.0 L153.4,44.3 L153.9,47.2 L154.4,50.7 L154.9,54.7 L155.4,58.8 L155.9,62.6 L156.4,65.8 L156.9,68.3 L157.4,70.1 L157.9,71.4 L158.4,72.2 L158.9,72.8 L159.4,73.2 L159.9,73.4 L160.4,73.6 L160.9,73.7 L161.4,73.8 L161.9,73.8 L162.4,73.8 L162.9,73.9 L163.4,73.9 L163.9,73.9 L164.4,73.9 L164.9,73.9 L165.4,73.9 L165.9,73.9 L166.4,73.9 L166.9,73.9 L167.4,73.9 L167.9,73.9 L168.4,73.9 L168.9,73.9 L169.4,73.9 L169.9,73.9 L170.4,73.9 L170.9,73.9 L171.4,73.9 L171.9,73.9 L172.4,73.9 L172.9,73.9 L173.4,73.9 L173.9,73.9 L174.4,73.9 L174.9,73.9 L175.4,73.9 L175.9,73.9 L176.4,73.9 L176.9,73.9 L177.4,73.9 L177.9,73.9 L178.4,73.9 L178.9,73.9 L179.4,73.9 L179.9,73.9 L180.4,73.9 L180.9,73.9 L181.4,73.9 L181.9,73.9 L182.4,73.9 L182.9,73.9 L183.4,73.9 L183.9,73.9 L184.4,73.9 L184.9,73.9 L185.4,73.9 L185.9,73.9 L186.4,73.9 L186.9,73.9 L187.4,73.9 L187.9,73.9 L188.4,73.9 L188.9,73.9 L189.4,73.9 L189.9,73.9 L190.4,73.9 L190.9,73.9 L191.4,73.9 L191.9,73.9 L192.4,73.9 L192.9,73.9 L193.4,73.9 L193.9,73.9 L193.9,77.7 L193.4,77.7 L192.9,77.7 L192.4,77.7 L191.9,77.7 L191.4,77.7 L190.9,77.7 L190.4,77.7 L189.9,77.7 L189.4,77.7 L188.9,77.7 L188.4,77.7 L187.9,77.7 L187.4,77.7 L186.9,77.7 L186.4,77.7 L185.9,77.7 L185.4,77.7 L184.9,77.7 L184.4,77.7 L183.9,77.7 L183.4,77.7 L182.9,77.7 L182.4,77.7 L181.9,77.7 L181.4,77.7 L180.9,77.7 L180.4,77.7 L179.9,77.7 L179.4,77.7 L178.9,77.7 L178.4,77.7 L177.9,77.7 L177.4,77.7 L176.9,77.7 L176.4,77.7 L175.9,77.7 L175.4,77.7 L174.9,77.7 L174.4,77.7 L173.9,77.7 L173.4,77.7 L172.9,77.7 L172.4,77.7 L171.9,77.7 L171.4,77.7 L170.9,77.7 L170.4,77.7 L169.9,77.7 L169.4,77.7 L168.9,77.7 L168.4,77.7 L167.9,77.7 L167.4,77.7 L166.9,77.7 L166.4,77.7 L165.9,77.7 L165.4,77.7 L164.9,77.7 L164.4,77.7 L163.9,77.7 L163.4,77.7 L162.9,77.7 L162.4,77.6 L161.9,77.6 L161.4,77.6 L160.9,77.5 L160.4,77.4 L159.9,77.2 L159.4,77.0 L158.9,76.6 L158.4,76.0 L157.9,75.2 L157.4,73.9 L156.9,72.1 L156.4,69.6 L155.9,66.4 L155.4,62.6 L154.9,58.5 L154.4,54.5 L153.9,51.0 L153.4,48.1 L152.9,45.8 L152.4,44.3 L151.9,43.2 L151.4,42.4 L150.9,41.9 L150.4,41.6 L149.9,41.4 L149.4,41.3 L148.9,41.2 L148.4,41.1 L147.9,41.1 L147.4,41.1 L146.9,41.1 L146.4,41.0 L145.9,41.0 L145.4,41.0 L144.9,41.0 L144.4,41.0 L143.9,41.0 L143.4,41.0 L142.9,41.0 L142.4,41.0 L141.9,41.0 L141.4,41.0 L140.9,41.0 L140.4,41.0 L139.9,41.0 L139.4,41.0 L138.9,41.0 L138.4,41.0 L137.9,41.0 L137.4,41.0 L136.9,41.0 L136.4,41.0 L135.9,41.0 L135.4,41.0 L134.9,41.0 L134.4,41.0 L133.9,41.0 L133.4,41.0 L132.9,41.0 L132.4,41.0 L131.9,41.0 L131.4,41.0 L130.9,41.0 L130.4,41.0 L129.9,41.0 L129.4,41.0 L128.9,41.0 L128.4,41.0 L127.9,41.0 L127.4,41.0 L126.9,41.0 L126.4,41.0 L125.9,41.0 L125.4,41.0 L124.9,41.0 L124.4,41.0 L123.9,41.0 L123.4,41.0 L122.9,41.0 L122.4,41.0 L121.9,41.0 L121.4,41.0 L120.9,41.0 L120.4,41.0 L119.9,41.0 L119.4,41.0 L118.9,41.0 L118.4,41.0 L117.9,41.0 L117.4,41.0 L116.9,41.0 L116.4,41.0 L115.9,41.0 L115.4,41.0 L114.9,41.0 L114.4,41.0 L113.9,41.0 L113.4,41.0 L112.9,41.0 L112.4,41.0 L111.9,41.0Z" fill="#eeabc3"/>
<path d="M111.9,39.1 L112.4,39.1 L112.9,39.1 L113.4,39.1 L113.9,39.1 L114.4,39.1 L114.9,39.1 L115.4,39.1 L115.9,39.1 L116.4,39.1 L116.9,39.1 L117.4,39.1 L117.9,39.1 L118.4,39.1 L118.9,39.1 L119.4,39.1 L119.9,39.1 L120.4,39.1 L120.9,39.1 L121.4,39.1 L121.9,39.1 L122.4,39.1 L122.9,39.1 L123.4,39.1 L123.9,39.1 L124.4,39.1 L124.9,39.1 L125.4,39.1 L125.9,39.1 L126.4,39.1 L126.9,39.1 L127.4,39.1 L127.9,39.1 L128.4,39.1 L128.9,39.1 L129.4,39.1 L129.9,39.1 L130.4,39.1 L130.9,39.1 L131.4,39.1 L131.9,39.1 L132.4,39.1 L132.9,39.1 L133.4,39.1 L133.9,39.1 L134.4,39.1 L134.9,39.1 L135.4,39.1 L135.9,39.1 L136.4,39.1 L136.9,39.1 L137.4,39.1 L137.9,39.1 L138.4,39.1 L138.9,39.1 L139.4,39.1 L139.9,39.1 L140.4,39.1 L140.9,39.1 L141.4,39.1 L141.9,39.1 L142.4,39.1 L142.9,39.1 L143.4,39.1 L143.9,39.1 L144.4,39.1 L144.9,39.1 L145.4,39.1 L145.9,39.1 L146.4,39.1 L146.9,39.2 L147.4,39.2 L147.9,39.2 L148.4,39.2 L148.9,39.3 L149.4,39.4 L149.9,39.5 L150.4,39.7 L150.9,40.0 L151.4,40.5 L151.9,41.3 L152.4,42.4 L152.9,43.9 L153.4,46.2 L153.9,49.1 L154.4,52.6 L154.9,56.6 L155.4,60.7 L155.9,64.5 L156.4,67.7 L156.9,70.2 L157.4,72.0 L157.9,73.3 L158.4,74.1 L158.9,74.7 L159.4,75.1 L159.9,75.3 L160.4,75.5 L160.9,75.6 L161.4,75.7 L161.9,75.7 L162.4,75.7 L162.9,75.8 L163.4,75.8 L163.9,75.8 L164.4,75.8 L164.9,75.8 L165.4,75.8 L165.9,75.8 L166.4,75.8 L166.9,75.8 L167.4,75.8 L167.9,75.8 L168.4,75.8 L168.9,75.8 L169.4,75.8 L169.9,75.8 L170.4,75.8 L170.9,75.8 L171.4,75.8 L171.9,75.8 L172.4,75.8 L172.9,75.8 L173.4,75.8 L173.9,75.8 L174.4,75.8 L174.9,75.8 L175.4,75.8 L175.9,75.8 L176.4,75.8 L176.9,75.8 L177.4,75.8 L177.9,75.8 L178.4,75.8 L178.9,75.8 L179.4,75.8 L179.9,75.8 L180.4,75.8 L180.9,75.8 L181.4,75.8 L181.9,75.8 L182.4,75.8 L182.9,75.8 L183.4,75.8 L183.9,75.8 L184.4,75.8 L184.9,75.8 L185.4,75.8 L185.9,75.8 L186.4,75.8 L186.9,75.8 L187.4,75.8 L187.9,75.8 L188.4,75.8 L188.9,75.8 L189.4,75.8 L189.9,75.8 L190.4,75.8 L190.9,75.8 L191.4,75.8 L191.9,75.8 L192.4,75.8 L192.9,75.8 L193.4,75.8 L193.9,75.8" fill="none" stroke="#d8467c" stroke-width="1.2"/>
<line x1="118.9" y1="37.1" x2="118.9" y2="41.1" stroke="#8a4a5a" stroke-width="0.6" stroke-opacity="0.8"/>
<rect x="118.2" y="38.4" width="1.5" height="1.5" fill="#8a4a5a" fill-opacity="0.85"/>
<line x1="125.5" y1="37.1" x2="125.5" y2="41.1" stroke="#8a4a5a" stroke-width="0.6" stroke-opacity="0.8"/>
<rect x="124.8" y="38.4" width="1.5" height="1.5" fill="#8a4a5a" fill-opacity="0.85"/>
<line x1="132.1" y1="37.1" x2="132.1" y2="41.1" stroke="#8a4a5a" stroke-width="0.6" stroke-opacity="0.8"/>
<rect x="131.3" y="38.4" width="1.5" height="1.5" fill="#8a4a5a" fill-opacity="0.85"/>
<line x1="138.7" y1="37.1" x2="138.7" y2="41.1" stroke="#8a4a5a" stroke-width="0.6" stroke-opacity="0.8"/>
<rect x="137.9" y="38.4" width="1.5" height="1.5" fill="#8a4a5a" fill-opacity="0.85"/>
<line x1="145.3" y1="37.1" x2="145.3" y2="41.1" stroke="#8a4a5a" stroke-width="0.6" stroke-opacity="0.8"/>
<rect x="144.6" y="38.4" width="1.5" height="1.5" fill="#8a4a5a" fill-opacity="0.85"/>
<line x1="151.9" y1="39.3" x2="151.9" y2="43.3" stroke="#8a4a5a" stroke-width="0.6" stroke-opacity="0.8"/>
<rect x="151.2" y="40.5" width="1.5" height="1.5" fill="#8a4a5a" fill-opacity="0.85"/>
<line x1="158.5" y1="72.3" x2="158.5" y2="76.3" stroke="#8a4a5a" stroke-width="0.6" stroke-opacity="0.8"/>
<rect x="157.8" y="73.5" width="1.5" height="1.5" fill="#8a4a5a" fill-opacity="0.85"/>
<line x1="165.1" y1="73.8" x2="165.1" y2="77.8" stroke="#8a4a5a" stroke-width="0.6" stroke-opacity="0.8"/>
<rect x="164.3" y="75.0" width="1.5" height="1.5" fill="#8a4a5a" fill-opacity="0.85"/>
<line x1="171.7" y1="73.8" x2="171.7" y2="77.8" stroke="#8a4a5a" stroke-width="0.6" stroke-opacity="0.8"/>
<rect x="170.9" y="75.0" width="1.5" height="1.5" fill="#8a4a5a" fill-opacity="0.85"/>
<line x1="178.3" y1="73.8" x2="178.3" y2="77.8" stroke="#8a4a5a" stroke-width="0.6" stroke-opacity="0.8"/>
<rect x="177.6" y="75.0" width="1.5" height="1.5" fill="#8a4a5a" fill-opacity="0.85"/>
<line x1="184.9" y1="73.8" x2="184.9" y2="77.8" stroke="#8a4a5a" stroke-width="0.6" stroke-opacity="0.8"/>
<rect x="184.2" y="75.0" width="1.5" height="1.5" fill="#8a4a5a" fill-opacity="0.85"/>
<line x1="191.5" y1="73.8" x2="191.5" y2="77.8" stroke="#8a4a5a" stroke-width="0.6" stroke-opacity="0.8"/>
<rect x="190.8" y="75.0" width="1.5" height="1.5" fill="#8a4a5a" fill-opacity="0.85"/>
<rect x="111.4" y="19.7" width="83.6" height="60.89999999999999" fill="none" stroke="#4f4f4f" stroke-width="1.4"/>
<text x="136.9" y="28.8" font-size="7.4" textLength="30.1" lengthAdjust="spacingAndGlyphs" fill="#252525">HCC1954</text>
<line x1="198.8" y1="64.9" x2="282.6" y2="64.9" stroke="#f3eaea" stroke-width="0.8"/>
<line x1="198.8" y1="50.0" x2="282.6" y2="50.0" stroke="#f3eaea" stroke-width="0.8"/>
<line x1="198.8" y1="35.0" x2="282.6" y2="35.0" stroke="#f3eaea" stroke-width="0.8"/>
<line x1="224.8" y1="19.7" x2="224.8" y2="80.6" stroke="#eeeeee" stroke-width="0.8"/>
<line x1="251.8" y1="19.7" x2="251.8" y2="80.6" stroke="#eeeeee" stroke-width="0.8"/>
<path d="M199.3,42.9 L199.8,42.9 L200.3,42.9 L200.8,42.9 L201.3,42.9 L201.8,42.9 L202.3,42.9 L202.8,42.9 L203.3,42.9 L203.8,42.9 L204.3,42.9 L204.8,42.9 L205.3,42.9 L205.8,42.9 L206.3,42.9 L206.8,42.9 L207.3,42.9 L207.8,42.9 L208.3,42.9 L208.8,42.9 L209.3,42.9 L209.8,42.9 L210.3,42.9 L210.8,42.9 L211.3,42.9 L211.8,42.9 L212.3,42.9 L212.8,42.9 L213.3,42.9 L213.8,42.9 L214.3,42.9 L214.8,42.9 L215.3,42.9 L215.8,42.9 L216.3,42.9 L216.8,42.9 L217.3,42.9 L217.8,42.9 L218.3,42.9 L218.8,42.9 L219.3,42.9 L219.8,42.9 L220.3,42.9 L220.8,42.9 L221.3,42.9 L221.8,42.9 L222.3,42.9 L222.8,42.9 L223.3,42.9 L223.8,42.9 L224.3,42.9 L224.8,42.9 L225.3,42.9 L225.8,42.9 L226.3,42.9 L226.8,42.9 L227.3,42.9 L227.8,42.9 L228.3,42.9 L228.8,42.9 L229.3,42.9 L229.8,42.9 L230.3,42.9 L230.8,42.9 L231.3,42.9 L231.8,42.9 L232.3,42.9 L232.8,42.9 L233.3,42.9 L233.8,42.9 L234.3,42.9 L234.8,42.9 L235.3,42.9 L235.8,42.9 L236.3,42.9 L236.8,42.9 L237.3,42.9 L237.8,42.9 L238.3,42.9 L238.8,42.9 L239.3,42.9 L239.8,42.9 L240.3,42.9 L240.8,42.9 L241.3,42.9 L241.8,42.9 L242.3,42.9 L242.8,42.9 L243.3,42.9 L243.8,42.9 L244.3,42.9 L244.8,42.9 L245.3,42.9 L245.8,42.9 L246.3,42.9 L246.8,42.9 L247.3,42.9 L247.8,42.9 L248.3,42.9 L248.8,42.9 L249.3,42.9 L249.8,42.9 L250.3,42.9 L250.8,42.9 L251.3,42.9 L251.8,42.9 L252.3,42.9 L252.8,42.9 L253.3,42.9 L253.8,42.9 L254.3,42.9 L254.8,42.9 L255.3,42.9 L255.8,42.9 L256.3,42.9 L256.8,42.9 L257.3,42.9 L257.8,42.9 L258.3,42.9 L258.8,42.9 L259.3,42.9 L259.8,42.9 L260.3,42.9 L260.8,42.9 L261.3,42.9 L261.8,43.0 L262.3,43.0 L262.8,43.1 L263.3,43.1 L263.8,43.2 L264.3,43.4 L264.8,43.6 L265.3,43.9 L265.8,44.3 L266.3,44.9 L266.8,45.6 L267.3,46.7 L267.8,48.0 L268.3,49.6 L268.8,51.6 L269.3,53.8 L269.8,56.3 L270.3,58.8 L270.8,61.2 L271.3,63.4 L271.8,65.3 L272.3,66.9 L272.8,68.1 L273.3,69.1 L273.8,69.8 L274.3,70.3 L274.8,70.7 L275.3,71.0 L275.8,71.2 L276.3,71.3 L276.8,71.4 L277.3,71.5 L277.8,71.6 L278.3,71.6 L278.8,71.6 L279.3,71.6 L279.8,71.6 L280.3,71.7 L280.8,71.7 L281.3,71.7" fill="none" stroke="#d2a268" stroke-width="1.2"/>
<line x1="206.3" y1="40.9" x2="206.3" y2="44.9" stroke="#8a7055" stroke-width="0.6" stroke-opacity="0.8"/>
<rect x="205.6" y="42.1" width="1.5" height="1.5" fill="#8a7055" fill-opacity="0.85"/>
<line x1="212.9" y1="40.9" x2="212.9" y2="44.9" stroke="#8a7055" stroke-width="0.6" stroke-opacity="0.8"/>
<rect x="212.2" y="42.1" width="1.5" height="1.5" fill="#8a7055" fill-opacity="0.85"/>
<line x1="219.5" y1="40.9" x2="219.5" y2="44.9" stroke="#8a7055" stroke-width="0.6" stroke-opacity="0.8"/>
<rect x="218.8" y="42.1" width="1.5" height="1.5" fill="#8a7055" fill-opacity="0.85"/>
<line x1="226.1" y1="40.9" x2="226.1" y2="44.9" stroke="#8a7055" stroke-width="0.6" stroke-opacity="0.8"/>
<rect x="225.4" y="42.1" width="1.5" height="1.5" fill="#8a7055" fill-opacity="0.85"/>
<line x1="232.7" y1="40.9" x2="232.7" y2="44.9" stroke="#8a7055" stroke-width="0.6" stroke-opacity="0.8"/>
<rect x="232.0" y="42.1" width="1.5" height="1.5" fill="#8a7055" fill-opacity="0.85"/>
<line x1="239.3" y1="40.9" x2="239.3" y2="44.9" stroke="#8a7055" stroke-width="0.6" stroke-opacity="0.8"/>
<rect x="238.6" y="42.1" width="1.5" height="1.5" fill="#8a7055" fill-opacity="0.85"/>
<line x1="245.9" y1="40.9" x2="245.9" y2="44.9" stroke="#8a7055" stroke-width="0.6" stroke-opacity="0.8"/>
<rect x="245.2" y="42.1" width="1.5" height="1.5" fill="#8a7055" fill-opacity="0.85"/>
<line x1="252.5" y1="40.9" x2="252.5" y2="44.9" stroke="#8a7055" stroke-width="0.6" stroke-opacity="0.8"/>
<rect x="251.8" y="42.1" width="1.5" height="1.5" fill="#8a7055" fill-opacity="0.85"/>
<line x1="259.1" y1="40.9" x2="259.1" y2="44.9" stroke="#8a7055" stroke-width="0.6" stroke-opacity="0.8"/>
<rect x="258.4" y="42.1" width="1.5" height="1.5" fill="#8a7055" fill-opacity="0.85"/>
<line x1="265.7" y1="42.2" x2="265.7" y2="46.2" stroke="#8a7055" stroke-width="0.6" stroke-opacity="0.8"/>
<rect x="264.9" y="43.5" width="1.5" height="1.5" fill="#8a7055" fill-opacity="0.85"/>
<line x1="272.3" y1="64.9" x2="272.3" y2="68.9" stroke="#8a7055" stroke-width="0.6" stroke-opacity="0.8"/>
<rect x="271.6" y="66.1" width="1.5" height="1.5" fill="#8a7055" fill-opacity="0.85"/>
<line x1="278.9" y1="69.6" x2="278.9" y2="73.6" stroke="#8a7055" stroke-width="0.6" stroke-opacity="0.8"/>
<rect x="278.1" y="70.9" width="1.5" height="1.5" fill="#8a7055" fill-opacity="0.85"/>
<path d="M199.3,41.0 L199.8,41.0 L200.3,41.0 L200.8,41.0 L201.3,41.0 L201.8,41.0 L202.3,41.0 L202.8,41.0 L203.3,41.0 L203.8,41.0 L204.3,41.0 L204.8,41.0 L205.3,41.0 L205.8,41.0 L206.3,41.0 L206.8,41.0 L207.3,41.0 L207.8,41.0 L208.3,41.0 L208.8,41.0 L209.3,41.0 L209.8,41.0 L210.3,41.0 L210.8,41.0 L211.3,41.0 L211.8,41.0 L212.3,41.0 L212.8,41.0 L213.3,41.0 L213.8,41.0 L214.3,41.0 L214.8,41.0 L215.3,41.0 L215.8,41.0 L216.3,41.0 L216.8,41.0 L217.3,41.0 L217.8,41.0 L218.3,41.0 L218.8,41.0 L219.3,41.0 L219.8,41.0 L220.3,41.0 L220.8,41.0 L221.3,41.0 L221.8,41.0 L222.3,41.0 L222.8,41.0 L223.3,41.0 L223.8,41.0 L224.3,41.0 L224.8,41.0 L225.3,41.0 L225.8,41.0 L226.3,41.0 L226.8,41.0 L227.3,41.0 L227.8,41.0 L228.3,41.0 L228.8,41.0 L229.3,41.0 L229.8,41.0 L230.3,41.0 L230.8,41.0 L231.3,41.0 L231.8,41.0 L232.3,41.0 L232.8,41.0 L233.3,41.0 L233.8,41.0 L234.3,41.0 L234.8,41.0 L235.3,41.0 L235.8,41.0 L236.3,41.0 L236.8,41.0 L237.3,41.0 L237.8,41.0 L238.3,41.0 L238.8,41.0 L239.3,41.0 L239.8,41.0 L240.3,41.0 L240.8,41.0 L241.3,41.0 L241.8,41.1 L242.3,41.1 L242.8,41.1 L243.3,41.2 L243.8,41.2 L244.3,41.3 L244.8,41.5 L245.3,41.7 L245.8,42.0 L246.3,42.3 L246.8,42.9 L247.3,43.6 L247.8,44.5 L248.3,45.7 L248.8,47.2 L249.3,49.0 L249.8,51.1 L250.3,53.4 L250.8,55.7 L251.3,57.9 L251.8,59.9 L252.3,61.7 L252.8,63.1 L253.3,64.3 L253.8,65.2 L254.3,65.8 L254.8,66.3 L255.3,66.7 L255.8,66.9 L256.3,67.1 L256.8,67.2 L257.3,67.3 L257.8,67.4 L258.3,67.4 L258.8,67.5 L259.3,67.5 L259.8,67.5 L260.3,67.5 L260.8,67.5 L261.3,67.5 L261.8,67.5 L262.3,67.6 L262.8,67.6 L263.3,67.6 L263.8,67.6 L264.3,67.6 L264.8,67.6 L265.3,67.6 L265.8,67.6 L266.3,67.6 L266.8,67.6 L267.3,67.6 L267.8,67.6 L268.3,67.6 L268.8,67.6 L269.3,67.6 L269.8,67.6 L270.3,67.6 L270.8,67.6 L271.3,67.6 L271.8,67.6 L272.3,67.6 L272.8,67.6 L273.3,67.6 L273.8,67.6 L274.3,67.6 L274.8,67.6 L275.3,67.6 L275.8,67.6 L276.3,67.6 L276.8,67.6 L277.3,67.6 L277.8,67.6 L278.3,67.6 L278.8,67.6 L279.3,67.6 L279.8,67.6 L280.3,67.6 L280.8,67.6 L281.3,67.6" fill="none" stroke="#86afc6" stroke-width="1.2"/>
<line x1="206.3" y1="39.0" x2="206.3" y2="43.0" stroke="#6f7f88" stroke-width="0.6" stroke-opacity="0.8"/>
<rect x="205.6" y="40.3" width="1.5" height="1.5" fill="#6f7f88" fill-opacity="0.85"/>
<line x1="212.9" y1="39.0" x2="212.9" y2="43.0" stroke="#6f7f88" stroke-width="0.6" stroke-opacity="0.8"/>
<rect x="212.2" y="40.3" width="1.5" height="1.5" fill="#6f7f88" fill-opacity="0.85"/>
<line x1="219.5" y1="39.0" x2="219.5" y2="43.0" stroke="#6f7f88" stroke-width="0.6" stroke-opacity="0.8"/>
<rect x="218.8" y="40.3" width="1.5" height="1.5" fill="#6f7f88" fill-opacity="0.85"/>
<line x1="226.1" y1="39.0" x2="226.1" y2="43.0" stroke="#6f7f88" stroke-width="0.6" stroke-opacity="0.8"/>
<rect x="225.4" y="40.3" width="1.5" height="1.5" fill="#6f7f88" fill-opacity="0.85"/>
<line x1="232.7" y1="39.0" x2="232.7" y2="43.0" stroke="#6f7f88" stroke-width="0.6" stroke-opacity="0.8"/>
<rect x="232.0" y="40.3" width="1.5" height="1.5" fill="#6f7f88" fill-opacity="0.85"/>
<line x1="239.3" y1="39.0" x2="239.3" y2="43.0" stroke="#6f7f88" stroke-width="0.6" stroke-opacity="0.8"/>
<rect x="238.6" y="40.3" width="1.5" height="1.5" fill="#6f7f88" fill-opacity="0.85"/>
<line x1="245.9" y1="40.0" x2="245.9" y2="44.0" stroke="#6f7f88" stroke-width="0.6" stroke-opacity="0.8"/>
<rect x="245.2" y="41.3" width="1.5" height="1.5" fill="#6f7f88" fill-opacity="0.85"/>
<line x1="252.5" y1="60.3" x2="252.5" y2="64.3" stroke="#6f7f88" stroke-width="0.6" stroke-opacity="0.8"/>
<rect x="251.8" y="61.6" width="1.5" height="1.5" fill="#6f7f88" fill-opacity="0.85"/>
<line x1="259.1" y1="65.5" x2="259.1" y2="69.5" stroke="#6f7f88" stroke-width="0.6" stroke-opacity="0.8"/>
<rect x="258.4" y="66.7" width="1.5" height="1.5" fill="#6f7f88" fill-opacity="0.85"/>
<line x1="265.7" y1="65.6" x2="265.7" y2="69.6" stroke="#6f7f88" stroke-width="0.6" stroke-opacity="0.8"/>
<rect x="264.9" y="66.8" width="1.5" height="1.5" fill="#6f7f88" fill-opacity="0.85"/>
<line x1="272.3" y1="65.6" x2="272.3" y2="69.6" stroke="#6f7f88" stroke-width="0.6" stroke-opacity="0.8"/>
<rect x="271.6" y="66.8" width="1.5" height="1.5" fill="#6f7f88" fill-opacity="0.85"/>
<line x1="278.9" y1="65.6" x2="278.9" y2="69.6" stroke="#6f7f88" stroke-width="0.6" stroke-opacity="0.8"/>
<rect x="278.1" y="66.8" width="1.5" height="1.5" fill="#6f7f88" fill-opacity="0.85"/>
<path d="M199.3,40.8 L246.7,40.8 L246.7,62.1 L279.6,62.1" fill="none" stroke="#d8467c" stroke-width="1.5"/>
<line x1="206.3" y1="40.3" x2="206.3" y2="44.3" stroke="#8a4a5a" stroke-width="0.6" stroke-opacity="0.8"/>
<rect x="205.6" y="41.6" width="1.5" height="1.5" fill="#8a4a5a" fill-opacity="0.85"/>
<line x1="212.9" y1="40.3" x2="212.9" y2="44.3" stroke="#8a4a5a" stroke-width="0.6" stroke-opacity="0.8"/>
<rect x="212.2" y="41.6" width="1.5" height="1.5" fill="#8a4a5a" fill-opacity="0.85"/>
<line x1="219.5" y1="40.3" x2="219.5" y2="44.3" stroke="#8a4a5a" stroke-width="0.6" stroke-opacity="0.8"/>
<rect x="218.8" y="41.6" width="1.5" height="1.5" fill="#8a4a5a" fill-opacity="0.85"/>
<line x1="226.1" y1="40.3" x2="226.1" y2="44.3" stroke="#8a4a5a" stroke-width="0.6" stroke-opacity="0.8"/>
<rect x="225.4" y="41.6" width="1.5" height="1.5" fill="#8a4a5a" fill-opacity="0.85"/>
<line x1="232.7" y1="40.3" x2="232.7" y2="44.3" stroke="#8a4a5a" stroke-width="0.6" stroke-opacity="0.8"/>
<rect x="232.0" y="41.6" width="1.5" height="1.5" fill="#8a4a5a" fill-opacity="0.85"/>
<line x1="239.3" y1="40.3" x2="239.3" y2="44.3" stroke="#8a4a5a" stroke-width="0.6" stroke-opacity="0.8"/>
<rect x="238.6" y="41.6" width="1.5" height="1.5" fill="#8a4a5a" fill-opacity="0.85"/>
<line x1="245.9" y1="40.3" x2="245.9" y2="44.3" stroke="#8a4a5a" stroke-width="0.6" stroke-opacity="0.8"/>
<rect x="245.2" y="41.6" width="1.5" height="1.5" fill="#8a4a5a" fill-opacity="0.85"/>
<line x1="252.5" y1="61.6" x2="252.5" y2="65.6" stroke="#8a4a5a" stroke-width="0.6" stroke-opacity="0.8"/>
<rect x="251.8" y="62.8" width="1.5" height="1.5" fill="#8a4a5a" fill-opacity="0.85"/>
<line x1="259.1" y1="61.6" x2="259.1" y2="65.6" stroke="#8a4a5a" stroke-width="0.6" stroke-opacity="0.8"/>
<rect x="258.4" y="62.8" width="1.5" height="1.5" fill="#8a4a5a" fill-opacity="0.85"/>
<line x1="265.7" y1="61.6" x2="265.7" y2="65.6" stroke="#8a4a5a" stroke-width="0.6" stroke-opacity="0.8"/>
<rect x="264.9" y="62.8" width="1.5" height="1.5" fill="#8a4a5a" fill-opacity="0.85"/>
<line x1="272.3" y1="61.6" x2="272.3" y2="65.6" stroke="#8a4a5a" stroke-width="0.6" stroke-opacity="0.8"/>
<rect x="271.6" y="62.8" width="1.5" height="1.5" fill="#8a4a5a" fill-opacity="0.85"/>
<line x1="278.9" y1="61.6" x2="278.9" y2="65.6" stroke="#8a4a5a" stroke-width="0.6" stroke-opacity="0.8"/>
<rect x="278.1" y="62.8" width="1.5" height="1.5" fill="#8a4a5a" fill-opacity="0.85"/>
<rect x="198.8" y="19.7" width="83.80000000000001" height="60.89999999999999" fill="none" stroke="#4f4f4f" stroke-width="1.4"/>
<text x="229.4" y="30.5" font-size="7.4" textLength="22.5" lengthAdjust="spacingAndGlyphs" fill="#252525">HCC70</text>
<text x="22.6" y="82.2" font-size="6.4" text-anchor="end" font-weight="bold" fill="#222">0</text>
<text x="22.6" y="67.24" font-size="6.4" text-anchor="end" font-weight="bold" fill="#222">40</text>
<text x="22.6" y="52.28" font-size="6.4" text-anchor="end" font-weight="bold" fill="#222">80</text>
<text x="22.6" y="37.32" font-size="6.4" text-anchor="end" font-weight="bold" fill="#222">120</text>
<text x="22.6" y="22.360000000000003" font-size="6.4" text-anchor="end" font-weight="bold" fill="#222">160</text>
<line x1="24.9" y1="136.5" x2="108.4" y2="136.5" stroke="#f3eaea" stroke-width="0.8"/>
<line x1="24.9" y1="121.4" x2="108.4" y2="121.4" stroke="#f3eaea" stroke-width="0.8"/>
<line x1="24.9" y1="106.2" x2="108.4" y2="106.2" stroke="#f3eaea" stroke-width="0.8"/>
<line x1="50.9" y1="89.3" x2="50.9" y2="152.0" stroke="#eeeeee" stroke-width="0.8"/>
<line x1="77.9" y1="89.3" x2="77.9" y2="152.0" stroke="#eeeeee" stroke-width="0.8"/>
<path d="M25.4,111.2 L25.9,111.2 L26.4,111.2 L26.9,111.2 L27.4,111.2 L27.9,111.2 L28.4,111.2 L28.9,111.2 L29.4,111.2 L29.9,111.2 L30.4,111.2 L30.9,111.2 L31.4,111.2 L31.9,111.2 L32.4,111.2 L32.9,111.2 L33.4,111.2 L33.9,111.2 L34.4,111.2 L34.9,111.2 L35.4,111.2 L35.9,111.2 L36.4,111.2 L36.9,111.2 L37.4,111.2 L37.9,111.2 L38.4,111.2 L38.9,111.2 L39.4,111.2 L39.9,111.2 L40.4,111.2 L40.9,111.2 L41.4,111.2 L41.9,111.2 L42.4,111.2 L42.9,111.2 L43.4,111.2 L43.9,111.2 L44.4,111.2 L44.9,111.2 L45.4,111.2 L45.9,111.2 L46.4,111.2 L46.9,111.2 L47.4,111.2 L47.9,111.2 L48.4,111.2 L48.9,111.2 L49.4,111.2 L49.9,111.2 L50.4,111.2 L50.9,111.2 L51.4,111.2 L51.9,111.2 L52.4,111.2 L52.9,111.2 L53.4,111.2 L53.9,111.2 L54.4,111.2 L54.9,111.2 L55.4,111.2 L55.9,111.2 L56.4,111.2 L56.9,111.2 L57.4,111.2 L57.9,111.2 L58.4,111.2 L58.9,111.2 L59.4,111.2 L59.9,111.2 L60.4,111.2 L60.9,111.2 L61.4,111.2 L61.9,111.2 L62.4,111.2 L62.9,111.2 L63.4,111.2 L63.9,111.2 L64.4,111.2 L64.9,111.2 L65.4,111.2 L65.9,111.2 L66.4,111.2 L66.9,111.2 L67.4,111.2 L67.9,111.2 L68.4,111.2 L68.9,111.2 L69.4,111.2 L69.9,111.2 L70.4,111.2 L70.9,111.2 L71.4,111.2 L71.9,111.2 L72.4,111.3 L72.9,111.3 L73.4,111.3 L73.9,111.3 L74.4,111.4 L74.9,111.4 L75.4,111.5 L75.9,111.5 L76.4,111.6 L76.9,111.7 L77.4,111.8 L77.9,111.9 L78.4,112.1 L78.9,112.3 L79.4,112.5 L79.9,112.8 L80.4,113.1 L80.9,113.5 L81.4,114.0 L81.9,114.5 L82.4,115.1 L82.9,115.8 L83.4,116.7 L83.9,117.6 L84.4,118.7 L84.9,119.9 L85.4,121.2 L85.9,122.7 L86.4,124.3 L86.9,125.9 L87.4,127.6 L87.9,129.4 L88.4,131.2 L88.9,132.9 L89.4,134.6 L89.9,136.2 L90.4,137.7 L90.9,139.1 L91.4,140.3 L91.9,141.5 L92.4,142.5 L92.9,143.3 L93.4,144.1 L93.9,144.8 L94.4,145.3 L94.9,145.8 L95.4,146.2 L95.9,146.6 L96.4,146.9 L96.9,147.1 L97.4,147.3 L97.9,147.5 L98.4,147.6 L98.9,147.8 L99.4,147.9 L99.9,147.9 L100.4,148.0 L100.9,148.1 L101.4,148.1 L101.9,148.2 L102.4,148.2 L102.9,148.2 L103.4,148.2 L103.9,148.3 L104.4,148.3 L104.9,148.3 L105.4,148.3 L105.9,148.3 L106.4,148.3 L106.9,148.3 L107.4,148.3" fill="none" stroke="#8e8a7f" stroke-width="1.2"/>
<line x1="32.4" y1="109.2" x2="32.4" y2="113.2" stroke="#8a7055" stroke-width="0.6" stroke-opacity="0.8"/>
<rect x="31.6" y="110.4" width="1.5" height="1.5" fill="#8a7055" fill-opacity="0.85"/>
<line x1="39.0" y1="109.2" x2="39.0" y2="113.2" stroke="#8a7055" stroke-width="0.6" stroke-opacity="0.8"/>
<rect x="38.2" y="110.4" width="1.5" height="1.5" fill="#8a7055" fill-opacity="0.85"/>
<line x1="45.6" y1="109.2" x2="45.6" y2="113.2" stroke="#8a7055" stroke-width="0.6" stroke-opacity="0.8"/>
<rect x="44.8" y="110.4" width="1.5" height="1.5" fill="#8a7055" fill-opacity="0.85"/>
<line x1="52.2" y1="109.2" x2="52.2" y2="113.2" stroke="#8a7055" stroke-width="0.6" stroke-opacity="0.8"/>
<rect x="51.4" y="110.4" width="1.5" height="1.5" fill="#8a7055" fill-opacity="0.85"/>
<line x1="58.8" y1="109.2" x2="58.8" y2="113.2" stroke="#8a7055" stroke-width="0.6" stroke-opacity="0.8"/>
<rect x="58.0" y="110.4" width="1.5" height="1.5" fill="#8a7055" fill-opacity="0.85"/>
<line x1="65.4" y1="109.2" x2="65.4" y2="113.2" stroke="#8a7055" stroke-width="0.6" stroke-opacity="0.8"/>
<rect x="64.7" y="110.4" width="1.5" height="1.5" fill="#8a7055" fill-opacity="0.85"/>
<line x1="72.0" y1="109.2" x2="72.0" y2="113.2" stroke="#8a7055" stroke-width="0.6" stroke-opacity="0.8"/>
<rect x="71.2" y="110.5" width="1.5" height="1.5" fill="#8a7055" fill-opacity="0.85"/>
<line x1="78.6" y1="110.2" x2="78.6" y2="114.2" stroke="#8a7055" stroke-width="0.6" stroke-opacity="0.8"/>
<rect x="77.8" y="111.4" width="1.5" height="1.5" fill="#8a7055" fill-opacity="0.85"/>
<line x1="85.2" y1="118.7" x2="85.2" y2="122.7" stroke="#8a7055" stroke-width="0.6" stroke-opacity="0.8"/>
<rect x="84.4" y="119.9" width="1.5" height="1.5" fill="#8a7055" fill-opacity="0.85"/>
<line x1="91.8" y1="139.2" x2="91.8" y2="143.2" stroke="#8a7055" stroke-width="0.6" stroke-opacity="0.8"/>
<rect x="91.0" y="140.5" width="1.5" height="1.5" fill="#8a7055" fill-opacity="0.85"/>
<line x1="98.4" y1="145.6" x2="98.4" y2="149.6" stroke="#8a7055" stroke-width="0.6" stroke-opacity="0.8"/>
<rect x="97.7" y="146.9" width="1.5" height="1.5" fill="#8a7055" fill-opacity="0.85"/>
<line x1="105.0" y1="146.3" x2="105.0" y2="150.3" stroke="#8a7055" stroke-width="0.6" stroke-opacity="0.8"/>
<rect x="104.2" y="147.5" width="1.5" height="1.5" fill="#8a7055" fill-opacity="0.85"/>
<path d="M25.4,109.3 L25.9,109.3 L26.4,109.3 L26.9,109.3 L27.4,109.3 L27.9,109.3 L28.4,109.3 L28.9,109.3 L29.4,109.3 L29.9,109.3 L30.4,109.3 L30.9,109.3 L31.4,109.3 L31.9,109.3 L32.4,109.3 L32.9,109.3 L33.4,109.3 L33.9,109.3 L34.4,109.3 L34.9,109.3 L35.4,109.3 L35.9,109.3 L36.4,109.3 L36.9,109.3 L37.4,109.3 L37.9,109.3 L38.4,109.3 L38.9,109.3 L39.4,109.3 L39.9,109.3 L40.4,109.3 L40.9,109.3 L41.4,109.3 L41.9,109.3 L42.4,109.3 L42.9,109.3 L43.4,109.3 L43.9,109.3 L44.4,109.3 L44.9,109.3 L45.4,109.3 L45.9,109.3 L46.4,109.3 L46.9,109.3 L47.4,109.3 L47.9,109.3 L48.4,109.3 L48.9,109.3 L49.4,109.3 L49.9,109.3 L50.4,109.3 L50.9,109.3 L51.4,109.3 L51.9,109.3 L52.4,109.3 L52.9,109.3 L53.4,109.3 L53.9,109.3 L54.4,109.3 L54.9,109.3 L55.4,109.3 L55.9,109.3 L56.4,109.3 L56.9,109.3 L57.4,109.3 L57.9,109.3 L58.4,109.3 L58.9,109.3 L59.4,109.3 L59.9,109.3 L60.4,109.3 L60.9,109.3 L61.4,109.3 L61.9,109.3 L62.4,109.3 L62.9,109.3 L63.4,109.4 L63.9,109.5 L64.4,109.6 L64.9,109.9 L65.4,110.2 L65.9,110.9 L66.4,111.8 L66.9,113.3 L67.4,115.5 L67.9,118.5 L68.4,122.4 L68.9,126.9 L69.4,131.5 L69.9,135.7 L70.4,139.1 L70.9,141.6 L71.4,143.4 L71.9,144.5 L72.4,145.2 L72.9,145.7 L73.4,146.0 L73.9,146.2 L74.4,146.3 L74.9,146.3 L75.4,146.4 L75.9,146.4 L76.4,146.4 L76.9,146.4 L77.4,146.4 L77.9,146.4 L78.4,146.4 L78.9,146.4 L79.4,146.4 L79.9,146.4 L80.4,146.4 L80.9,146.4 L81.4,146.4 L81.9,146.4 L82.4,146.4 L82.9,146.4 L83.4,146.4 L83.9,146.4 L84.4,146.4 L84.9,146.4 L85.4,146.4 L85.9,146.4 L86.4,146.4 L86.9,146.4 L87.4,146.4 L87.9,146.4 L88.4,146.4 L88.9,146.4 L89.4,146.4 L89.9,146.4 L90.4,146.4 L90.9,146.4 L91.4,146.4 L91.9,146.4 L92.4,146.4 L92.9,146.4 L93.4,146.4 L93.9,146.4 L94.4,146.4 L94.9,146.4 L95.4,146.4 L95.9,146.4 L96.4,146.4 L96.9,146.4 L97.4,146.4 L97.9,146.4 L98.4,146.4 L98.9,146.4 L99.4,146.4 L99.9,146.4 L100.4,146.4 L100.9,146.4 L101.4,146.4 L101.9,146.4 L102.4,146.4 L102.9,146.4 L103.4,146.4 L103.9,146.4 L104.4,146.4 L104.9,146.4 L105.4,146.4 L105.9,146.4 L106.4,146.4 L106.9,146.4 L107.4,146.4 L107.4,150.2 L106.9,150.2 L106.4,150.2 L105.9,150.2 L105.4,150.2 L104.9,150.2 L104.4,150.2 L103.9,150.2 L103.4,150.2 L102.9,150.2 L102.4,150.2 L101.9,150.2 L101.4,150.2 L100.9,150.2 L100.4,150.2 L99.9,150.2 L99.4,150.2 L98.9,150.2 L98.4,150.2 L97.9,150.2 L97.4,150.2 L96.9,150.2 L96.4,150.2 L95.9,150.2 L95.4,150.2 L94.9,150.2 L94.4,150.2 L93.9,150.2 L93.4,150.2 L92.9,150.2 L92.4,150.2 L91.9,150.2 L91.4,150.2 L90.9,150.2 L90.4,150.2 L89.9,150.2 L89.4,150.2 L88.9,150.2 L88.4,150.2 L87.9,150.2 L87.4,150.2 L86.9,150.2 L86.4,150.2 L85.9,150.2 L85.4,150.2 L84.9,150.2 L84.4,150.2 L83.9,150.2 L83.4,150.2 L82.9,150.2 L82.4,150.2 L81.9,150.2 L81.4,150.2 L80.9,150.2 L80.4,150.2 L79.9,150.2 L79.4,150.2 L78.9,150.2 L78.4,150.2 L77.9,150.2 L77.4,150.2 L76.9,150.2 L76.4,150.2 L75.9,150.2 L75.4,150.2 L74.9,150.1 L74.4,150.1 L73.9,150.0 L73.4,149.8 L72.9,149.5 L72.4,149.0 L71.9,148.3 L71.4,147.2 L70.9,145.4 L70.4,142.9 L69.9,139.5 L69.4,135.3 L68.9,130.7 L68.4,126.2 L67.9,122.3 L67.4,119.3 L66.9,117.1 L66.4,115.6 L65.9,114.7 L65.4,114.0 L64.9,113.7 L64.4,113.4 L63.9,113.3 L63.4,113.2 L62.9,113.1 L62.4,113.1 L61.9,113.1 L61.4,113.1 L60.9,113.1 L60.4,113.1 L59.9,113.1 L59.4,113.1 L58.9,113.1 L58.4,113.1 L57.9,113.1 L57.4,113.1 L56.9,113.1 L56.4,113.1 L55.9,113.1 L55.4,113.1 L54.9,113.1 L54.4,113.1 L53.9,113.1 L53.4,113.1 L52.9,113.1 L52.4,113.1 L51.9,113.1 L51.4,113.1 L50.9,113.1 L50.4,113.1 L49.9,113.1 L49.4,113.1 L48.9,113.1 L48.4,113.1 L47.9,113.1 L47.4,113.1 L46.9,113.1 L46.4,113.1 L45.9,113.1 L45.4,113.1 L44.9,113.1 L44.4,113.1 L43.9,113.1 L43.4,113.1 L42.9,113.1 L42.4,113.1 L41.9,113.1 L41.4,113.1 L40.9,113.1 L40.4,113.1 L39.9,113.1 L39.4,113.1 L38.9,113.1 L38.4,113.1 L37.9,113.1 L37.4,113.1 L36.9,113.1 L36.4,113.1 L35.9,113.1 L35.4,113.1 L34.9,113.1 L34.4,113.1 L33.9,113.1 L33.4,113.1 L32.9,113.1 L32.4,113.1 L31.9,113.1 L31.4,113.1 L30.9,113.1 L30.4,113.1 L29.9,113.1 L29.4,113.1 L28.9,113.1 L28.4,113.1 L27.9,113.1 L27.4,113.1 L26.9,113.1 L26.4,113.1 L25.9,113.1 L25.4,113.1Z" fill="#eeabc3"/>
<path d="M25.4,111.2 L25.9,111.2 L26.4,111.2 L26.9,111.2 L27.4,111.2 L27.9,111.2 L28.4,111.2 L28.9,111.2 L29.4,111.2 L29.9,111.2 L30.4,111.2 L30.9,111.2 L31.4,111.2 L31.9,111.2 L32.4,111.2 L32.9,111.2 L33.4,111.2 L33.9,111.2 L34.4,111.2 L34.9,111.2 L35.4,111.2 L35.9,111.2 L36.4,111.2 L36.9,111.2 L37.4,111.2 L37.9,111.2 L38.4,111.2 L38.9,111.2 L39.4,111.2 L39.9,111.2 L40.4,111.2 L40.9,111.2 L41.4,111.2 L41.9,111.2 L42.4,111.2 L42.9,111.2 L43.4,111.2 L43.9,111.2 L44.4,111.2 L44.9,111.2 L45.4,111.2 L45.9,111.2 L46.4,111.2 L46.9,111.2 L47.4,111.2 L47.9,111.2 L48.4,111.2 L48.9,111.2 L49.4,111.2 L49.9,111.2 L50.4,111.2 L50.9,111.2 L51.4,111.2 L51.9,111.2 L52.4,111.2 L52.9,111.2 L53.4,111.2 L53.9,111.2 L54.4,111.2 L54.9,111.2 L55.4,111.2 L55.9,111.2 L56.4,111.2 L56.9,111.2 L57.4,111.2 L57.9,111.2 L58.4,111.2 L58.9,111.2 L59.4,111.2 L59.9,111.2 L60.4,111.2 L60.9,111.2 L61.4,111.2 L61.9,111.2 L62.4,111.2 L62.9,111.2 L63.4,111.3 L63.9,111.4 L64.4,111.5 L64.9,111.8 L65.4,112.1 L65.9,112.8 L66.4,113.7 L66.9,115.2 L67.4,117.4 L67.9,120.4 L68.4,124.3 L68.9,128.8 L69.4,133.4 L69.9,137.6 L70.4,141.0 L70.9,143.5 L71.4,145.3 L71.9,146.4 L72.4,147.1 L72.9,147.6 L73.4,147.9 L73.9,148.1 L74.4,148.2 L74.9,148.2 L75.4,148.3 L75.9,148.3 L76.4,148.3 L76.9,148.3 L77.4,148.3 L77.9,148.3 L78.4,148.3 L78.9,148.3 L79.4,148.3 L79.9,148.3 L80.4,148.3 L80.9,148.3 L81.4,148.3 L81.9,148.3 L82.4,148.3 L82.9,148.3 L83.4,148.3 L83.9,148.3 L84.4,148.3 L84.9,148.3 L85.4,148.3 L85.9,148.3 L86.4,148.3 L86.9,148.3 L87.4,148.3 L87.9,148.3 L88.4,148.3 L88.9,148.3 L89.4,148.3 L89.9,148.3 L90.4,148.3 L90.9,148.3 L91.4,148.3 L91.9,148.3 L92.4,148.3 L92.9,148.3 L93.4,148.3 L93.9,148.3 L94.4,148.3 L94.9,148.3 L95.4,148.3 L95.9,148.3 L96.4,148.3 L96.9,148.3 L97.4,148.3 L97.9,148.3 L98.4,148.3 L98.9,148.3 L99.4,148.3 L99.9,148.3 L100.4,148.3 L100.9,148.3 L101.4,148.3 L101.9,148.3 L102.4,148.3 L102.9,148.3 L103.4,148.3 L103.9,148.3 L104.4,148.3 L104.9,148.3 L105.4,148.3 L105.9,148.3 L106.4,148.3 L106.9,148.3 L107.4,148.3" fill="none" stroke="#d8467c" stroke-width="1.2"/>
<line x1="32.4" y1="109.2" x2="32.4" y2="113.2" stroke="#8a4a5a" stroke-width="0.6" stroke-opacity="0.8"/>
<rect x="31.6" y="110.4" width="1.5" height="1.5" fill="#8a4a5a" fill-opacity="0.85"/>
<line x1="39.0" y1="109.2" x2="39.0" y2="113.2" stroke="#8a4a5a" stroke-width="0.6" stroke-opacity="0.8"/>
<rect x="38.2" y="110.4" width="1.5" height="1.5" fill="#8a4a5a" fill-opacity="0.85"/>
<line x1="45.6" y1="109.2" x2="45.6" y2="113.2" stroke="#8a4a5a" stroke-width="0.6" stroke-opacity="0.8"/>
<rect x="44.8" y="110.4" width="1.5" height="1.5" fill="#8a4a5a" fill-opacity="0.85"/>
<line x1="52.2" y1="109.2" x2="52.2" y2="113.2" stroke="#8a4a5a" stroke-width="0.6" stroke-opacity="0.8"/>
<rect x="51.4" y="110.4" width="1.5" height="1.5" fill="#8a4a5a" fill-opacity="0.85"/>
<line x1="58.8" y1="109.2" x2="58.8" y2="113.2" stroke="#8a4a5a" stroke-width="0.6" stroke-opacity="0.8"/>
<rect x="58.0" y="110.4" width="1.5" height="1.5" fill="#8a4a5a" fill-opacity="0.85"/>
<line x1="65.4" y1="110.1" x2="65.4" y2="114.1" stroke="#8a4a5a" stroke-width="0.6" stroke-opacity="0.8"/>
<rect x="64.7" y="111.4" width="1.5" height="1.5" fill="#8a4a5a" fill-opacity="0.85"/>
<line x1="72.0" y1="144.6" x2="72.0" y2="148.6" stroke="#8a4a5a" stroke-width="0.6" stroke-opacity="0.8"/>
<rect x="71.2" y="145.8" width="1.5" height="1.5" fill="#8a4a5a" fill-opacity="0.85"/>
<line x1="78.6" y1="146.3" x2="78.6" y2="150.3" stroke="#8a4a5a" stroke-width="0.6" stroke-opacity="0.8"/>
<rect x="77.8" y="147.6" width="1.5" height="1.5" fill="#8a4a5a" fill-opacity="0.85"/>
<line x1="85.2" y1="146.3" x2="85.2" y2="150.3" stroke="#8a4a5a" stroke-width="0.6" stroke-opacity="0.8"/>
<rect x="84.4" y="147.6" width="1.5" height="1.5" fill="#8a4a5a" fill-opacity="0.85"/>
<line x1="91.8" y1="146.3" x2="91.8" y2="150.3" stroke="#8a4a5a" stroke-width="0.6" stroke-opacity="0.8"/>
<rect x="91.0" y="147.6" width="1.5" height="1.5" fill="#8a4a5a" fill-opacity="0.85"/>
<line x1="98.4" y1="146.3" x2="98.4" y2="150.3" stroke="#8a4a5a" stroke-width="0.6" stroke-opacity="0.8"/>
<rect x="97.7" y="147.6" width="1.5" height="1.5" fill="#8a4a5a" fill-opacity="0.85"/>
<line x1="105.0" y1="146.3" x2="105.0" y2="150.3" stroke="#8a4a5a" stroke-width="0.6" stroke-opacity="0.8"/>
<rect x="104.2" y="147.6" width="1.5" height="1.5" fill="#8a4a5a" fill-opacity="0.85"/>
<rect x="24.9" y="89.3" width="83.5" height="62.7" fill="none" stroke="#4f4f4f" stroke-width="1.4"/>
<text x="56.5" y="98.4" font-size="7.4" textLength="16.2" lengthAdjust="spacingAndGlyphs" fill="#252525">A431</text>
<line x1="111.4" y1="136.5" x2="195.0" y2="136.5" stroke="#f3eaea" stroke-width="0.8"/>
<line x1="111.4" y1="121.4" x2="195.0" y2="121.4" stroke="#f3eaea" stroke-width="0.8"/>
<line x1="111.4" y1="106.2" x2="195.0" y2="106.2" stroke="#f3eaea" stroke-width="0.8"/>
<line x1="137.4" y1="89.3" x2="137.4" y2="152.0" stroke="#eeeeee" stroke-width="0.8"/>
<line x1="164.4" y1="89.3" x2="164.4" y2="152.0" stroke="#eeeeee" stroke-width="0.8"/>
<path d="M111.9,110.4 L112.4,110.4 L112.9,110.4 L113.4,110.4 L113.9,110.4 L114.4,110.4 L114.9,110.4 L115.4,110.4 L115.9,110.4 L116.4,110.4 L116.9,110.4 L117.4,110.4 L117.9,110.4 L118.4,110.4 L118.9,110.4 L119.4,110.4 L119.9,110.4 L120.4,110.4 L120.9,110.4 L121.4,110.4 L121.9,110.4 L122.4,110.4 L122.9,110.4 L123.4,110.4 L123.9,110.4 L124.4,110.4 L124.9,110.4 L125.4,110.4 L125.9,110.4 L126.4,110.4 L126.9,110.4 L127.4,110.4 L127.9,110.4 L128.4,110.4 L128.9,110.4 L129.4,110.4 L129.9,110.4 L130.4,110.4 L130.9,110.4 L131.4,110.4 L131.9,110.4 L132.4,110.4 L132.9,110.4 L133.4,110.4 L133.9,110.4 L134.4,110.4 L134.9,110.4 L135.4,110.4 L135.9,110.4 L136.4,110.4 L136.9,110.4 L137.4,110.4 L137.9,110.4 L138.4,110.4 L138.9,110.4 L139.4,110.4 L139.9,110.4 L140.4,110.4 L140.9,110.4 L141.4,110.4 L141.9,110.4 L142.4,110.4 L142.9,110.4 L143.4,110.4 L143.9,110.4 L144.4,110.4 L144.9,110.4 L145.4,110.4 L145.9,110.4 L146.4,110.4 L146.9,110.4 L147.4,110.4 L147.9,110.4 L148.4,110.4 L148.9,110.4 L149.4,110.4 L149.9,110.4 L150.4,110.4 L150.9,110.4 L151.4,110.4 L151.9,110.4 L152.4,110.4 L152.9,110.4 L153.4,110.4 L153.9,110.4 L154.4,110.4 L154.9,110.4 L155.4,110.4 L155.9,110.4 L156.4,110.4 L156.9,110.4 L157.4,110.4 L157.9,110.4 L158.4,110.4 L158.9,110.4 L159.4,110.4 L159.9,110.5 L160.4,110.5 L160.9,110.5 L161.4,110.5 L161.9,110.6 L162.4,110.6 L162.9,110.6 L163.4,110.7 L163.9,110.8 L164.4,110.9 L164.9,111.0 L165.4,111.1 L165.9,111.3 L166.4,111.6 L166.9,111.8 L167.4,112.2 L167.9,112.6 L168.4,113.1 L168.9,113.8 L169.4,114.5 L169.9,115.4 L170.4,116.5 L170.9,117.7 L171.4,119.1 L171.9,120.7 L172.4,122.4 L172.9,124.3 L173.4,126.3 L173.9,128.3 L174.4,130.4 L174.9,132.4 L175.4,134.3 L175.9,136.1 L176.4,137.8 L176.9,139.2 L177.4,140.5 L177.9,141.7 L178.4,142.6 L178.9,143.4 L179.4,144.1 L179.9,144.7 L180.4,145.1 L180.9,145.5 L181.4,145.8 L181.9,146.0 L182.4,146.2 L182.9,146.4 L183.4,146.5 L183.9,146.6 L184.4,146.7 L184.9,146.8 L185.4,146.8 L185.9,146.9 L186.4,146.9 L186.9,147.0 L187.4,147.0 L187.9,147.0 L188.4,147.0 L188.9,147.0 L189.4,147.0 L189.9,147.0 L190.4,147.0 L190.9,147.0 L191.4,147.0 L191.9,147.1 L192.4,147.1 L192.9,147.1 L193.4,147.1 L193.9,147.1" fill="none" stroke="#8e8a7f" stroke-width="1.2"/>
<line x1="118.9" y1="108.4" x2="118.9" y2="112.4" stroke="#8a7055" stroke-width="0.6" stroke-opacity="0.8"/>
<rect x="118.2" y="109.6" width="1.5" height="1.5" fill="#8a7055" fill-opacity="0.85"/>
<line x1="125.5" y1="108.4" x2="125.5" y2="112.4" stroke="#8a7055" stroke-width="0.6" stroke-opacity="0.8"/>
<rect x="124.8" y="109.6" width="1.5" height="1.5" fill="#8a7055" fill-opacity="0.85"/>
<line x1="132.1" y1="108.4" x2="132.1" y2="112.4" stroke="#8a7055" stroke-width="0.6" stroke-opacity="0.8"/>
<rect x="131.3" y="109.6" width="1.5" height="1.5" fill="#8a7055" fill-opacity="0.85"/>
<line x1="138.7" y1="108.4" x2="138.7" y2="112.4" stroke="#8a7055" stroke-width="0.6" stroke-opacity="0.8"/>
<rect x="137.9" y="109.6" width="1.5" height="1.5" fill="#8a7055" fill-opacity="0.85"/>
<line x1="145.3" y1="108.4" x2="145.3" y2="112.4" stroke="#8a7055" stroke-width="0.6" stroke-opacity="0.8"/>
<rect x="144.6" y="109.6" width="1.5" height="1.5" fill="#8a7055" fill-opacity="0.85"/>
<line x1="151.9" y1="108.4" x2="151.9" y2="112.4" stroke="#8a7055" stroke-width="0.6" stroke-opacity="0.8"/>
<rect x="151.2" y="109.6" width="1.5" height="1.5" fill="#8a7055" fill-opacity="0.85"/>
<line x1="158.5" y1="108.4" x2="158.5" y2="112.4" stroke="#8a7055" stroke-width="0.6" stroke-opacity="0.8"/>
<rect x="157.8" y="109.7" width="1.5" height="1.5" fill="#8a7055" fill-opacity="0.85"/>
<line x1="165.1" y1="109.1" x2="165.1" y2="113.1" stroke="#8a7055" stroke-width="0.6" stroke-opacity="0.8"/>
<rect x="164.3" y="110.3" width="1.5" height="1.5" fill="#8a7055" fill-opacity="0.85"/>
<line x1="171.7" y1="118.0" x2="171.7" y2="122.0" stroke="#8a7055" stroke-width="0.6" stroke-opacity="0.8"/>
<rect x="170.9" y="119.3" width="1.5" height="1.5" fill="#8a7055" fill-opacity="0.85"/>
<line x1="178.3" y1="140.4" x2="178.3" y2="144.4" stroke="#8a7055" stroke-width="0.6" stroke-opacity="0.8"/>
<rect x="177.6" y="141.7" width="1.5" height="1.5" fill="#8a7055" fill-opacity="0.85"/>
<line x1="184.9" y1="144.8" x2="184.9" y2="148.8" stroke="#8a7055" stroke-width="0.6" stroke-opacity="0.8"/>
<rect x="184.2" y="146.0" width="1.5" height="1.5" fill="#8a7055" fill-opacity="0.85"/>
<line x1="191.5" y1="145.1" x2="191.5" y2="149.1" stroke="#8a7055" stroke-width="0.6" stroke-opacity="0.8"/>
<rect x="190.8" y="146.3" width="1.5" height="1.5" fill="#8a7055" fill-opacity="0.85"/>
<path d="M111.9,107.0 L157.0,107.0 L157.0,147.1 L192.0,147.1" fill="none" stroke="#d8467c" stroke-width="1.5"/>
<line x1="118.9" y1="106.5" x2="118.9" y2="110.5" stroke="#8a4a5a" stroke-width="0.6" stroke-opacity="0.8"/>
<rect x="118.2" y="107.8" width="1.5" height="1.5" fill="#8a4a5a" fill-opacity="0.85"/>
<line x1="125.5" y1="106.5" x2="125.5" y2="110.5" stroke="#8a4a5a" stroke-width="0.6" stroke-opacity="0.8"/>
<rect x="124.8" y="107.8" width="1.5" height="1.5" fill="#8a4a5a" fill-opacity="0.85"/>
<line x1="132.1" y1="106.5" x2="132.1" y2="110.5" stroke="#8a4a5a" stroke-width="0.6" stroke-opacity="0.8"/>
<rect x="131.3" y="107.8" width="1.5" height="1.5" fill="#8a4a5a" fill-opacity="0.85"/>
<line x1="138.7" y1="106.5" x2="138.7" y2="110.5" stroke="#8a4a5a" stroke-width="0.6" stroke-opacity="0.8"/>
<rect x="137.9" y="107.8" width="1.5" height="1.5" fill="#8a4a5a" fill-opacity="0.85"/>
<line x1="145.3" y1="106.5" x2="145.3" y2="110.5" stroke="#8a4a5a" stroke-width="0.6" stroke-opacity="0.8"/>
<rect x="144.6" y="107.8" width="1.5" height="1.5" fill="#8a4a5a" fill-opacity="0.85"/>
<line x1="151.9" y1="106.5" x2="151.9" y2="110.5" stroke="#8a4a5a" stroke-width="0.6" stroke-opacity="0.8"/>
<rect x="151.2" y="107.8" width="1.5" height="1.5" fill="#8a4a5a" fill-opacity="0.85"/>
<line x1="158.5" y1="146.6" x2="158.5" y2="150.6" stroke="#8a4a5a" stroke-width="0.6" stroke-opacity="0.8"/>
<rect x="157.8" y="147.8" width="1.5" height="1.5" fill="#8a4a5a" fill-opacity="0.85"/>
<line x1="165.1" y1="146.6" x2="165.1" y2="150.6" stroke="#8a4a5a" stroke-width="0.6" stroke-opacity="0.8"/>
<rect x="164.3" y="147.8" width="1.5" height="1.5" fill="#8a4a5a" fill-opacity="0.85"/>
<line x1="171.7" y1="146.6" x2="171.7" y2="150.6" stroke="#8a4a5a" stroke-width="0.6" stroke-opacity="0.8"/>
<rect x="170.9" y="147.8" width="1.5" height="1.5" fill="#8a4a5a" fill-opacity="0.85"/>
<line x1="178.3" y1="146.6" x2="178.3" y2="150.6" stroke="#8a4a5a" stroke-width="0.6" stroke-opacity="0.8"/>
<rect x="177.6" y="147.8" width="1.5" height="1.5" fill="#8a4a5a" fill-opacity="0.85"/>
<line x1="184.9" y1="146.6" x2="184.9" y2="150.6" stroke="#8a4a5a" stroke-width="0.6" stroke-opacity="0.8"/>
<rect x="184.2" y="147.8" width="1.5" height="1.5" fill="#8a4a5a" fill-opacity="0.85"/>
<line x1="191.5" y1="146.6" x2="191.5" y2="150.6" stroke="#8a4a5a" stroke-width="0.6" stroke-opacity="0.8"/>
<rect x="190.8" y="147.8" width="1.5" height="1.5" fill="#8a4a5a" fill-opacity="0.85"/>
<rect x="111.4" y="89.3" width="83.6" height="62.7" fill="none" stroke="#4f4f4f" stroke-width="1.4"/>
<text x="140.9" y="97.7" font-size="7.4" textLength="20.6" lengthAdjust="spacingAndGlyphs" fill="#252525">BICR22</text>
<line x1="198.8" y1="136.5" x2="282.6" y2="136.5" stroke="#f3eaea" stroke-width="0.8"/>
<line x1="198.8" y1="121.4" x2="282.6" y2="121.4" stroke="#f3eaea" stroke-width="0.8"/>
<line x1="198.8" y1="106.2" x2="282.6" y2="106.2" stroke="#f3eaea" stroke-width="0.8"/>
<line x1="224.8" y1="89.3" x2="224.8" y2="152.0" stroke="#eeeeee" stroke-width="0.8"/>
<line x1="251.8" y1="89.3" x2="251.8" y2="152.0" stroke="#eeeeee" stroke-width="0.8"/>
<path d="M199.3,110.0 L199.8,110.0 L200.3,110.0 L200.8,110.0 L201.3,110.0 L201.8,110.0 L202.3,110.0 L202.8,110.0 L203.3,110.0 L203.8,110.0 L204.3,110.0 L204.8,110.0 L205.3,110.0 L205.8,110.0 L206.3,110.0 L206.8,110.0 L207.3,110.0 L207.8,110.0 L208.3,110.0 L208.8,110.0 L209.3,110.0 L209.8,110.0 L210.3,110.0 L210.8,110.0 L211.3,110.0 L211.8,110.0 L212.3,110.0 L212.8,110.0 L213.3,110.0 L213.8,110.0 L214.3,110.0 L214.8,110.0 L215.3,110.0 L215.8,110.0 L216.3,110.0 L216.8,110.0 L217.3,110.0 L217.8,110.0 L218.3,110.0 L218.8,110.0 L219.3,110.0 L219.8,110.0 L220.3,110.0 L220.8,110.0 L221.3,110.0 L221.8,110.0 L222.3,110.0 L222.8,110.0 L223.3,110.0 L223.8,110.0 L224.3,110.0 L224.8,110.0 L225.3,110.0 L225.8,110.0 L226.3,110.0 L226.8,110.0 L227.3,110.0 L227.8,110.0 L228.3,110.0 L228.8,110.0 L229.3,110.0 L229.8,110.0 L230.3,110.0 L230.8,110.0 L231.3,110.0 L231.8,110.0 L232.3,110.0 L232.8,110.0 L233.3,110.0 L233.8,110.0 L234.3,110.0 L234.8,110.0 L235.3,110.0 L235.8,110.0 L236.3,110.0 L236.8,110.0 L237.3,110.0 L237.8,110.0 L238.3,110.0 L238.8,110.0 L239.3,110.0 L239.8,110.0 L240.3,110.0 L240.8,110.0 L241.3,110.0 L241.8,110.0 L242.3,110.0 L242.8,110.0 L243.3,110.0 L243.8,110.0 L244.3,110.0 L244.8,110.0 L245.3,110.0 L245.8,110.0 L246.3,110.0 L246.8,110.0 L247.3,110.0 L247.8,110.1 L248.3,110.1 L248.8,110.1 L249.3,110.1 L249.8,110.1 L250.3,110.1 L250.8,110.1 L251.3,110.2 L251.8,110.2 L252.3,110.3 L252.8,110.3 L253.3,110.4 L253.8,110.5 L254.3,110.6 L254.8,110.7 L255.3,110.9 L255.8,111.1 L256.3,111.4 L256.8,111.8 L257.3,112.2 L257.8,112.7 L258.3,113.3 L258.8,114.0 L259.3,114.9 L259.8,115.9 L260.3,117.1 L260.8,118.5 L261.3,120.1 L261.8,121.8 L262.3,123.7 L262.8,125.6 L263.3,127.7 L263.8,129.8 L264.3,131.8 L264.8,133.8 L265.3,135.7 L265.8,137.4 L266.3,138.9 L266.8,140.2 L267.3,141.4 L267.8,142.4 L268.3,143.2 L268.8,143.9 L269.3,144.5 L269.8,145.0 L270.3,145.4 L270.8,145.7 L271.3,146.0 L271.8,146.2 L272.3,146.4 L272.8,146.5 L273.3,146.6 L273.8,146.7 L274.3,146.8 L274.8,146.8 L275.3,146.9 L275.8,146.9 L276.3,146.9 L276.8,147.0 L277.3,147.0 L277.8,147.0 L278.3,147.0 L278.8,147.0 L279.3,147.0 L279.8,147.0 L280.3,147.0 L280.8,147.0 L281.3,147.1" fill="none" stroke="#8e8a7f" stroke-width="1.2"/>
<line x1="206.3" y1="108.0" x2="206.3" y2="112.0" stroke="#8a7055" stroke-width="0.6" stroke-opacity="0.8"/>
<rect x="205.6" y="109.3" width="1.5" height="1.5" fill="#8a7055" fill-opacity="0.85"/>
<line x1="212.9" y1="108.0" x2="212.9" y2="112.0" stroke="#8a7055" stroke-width="0.6" stroke-opacity="0.8"/>
<rect x="212.2" y="109.3" width="1.5" height="1.5" fill="#8a7055" fill-opacity="0.85"/>
<line x1="219.5" y1="108.0" x2="219.5" y2="112.0" stroke="#8a7055" stroke-width="0.6" stroke-opacity="0.8"/>
<rect x="218.8" y="109.3" width="1.5" height="1.5" fill="#8a7055" fill-opacity="0.85"/>
<line x1="226.1" y1="108.0" x2="226.1" y2="112.0" stroke="#8a7055" stroke-width="0.6" stroke-opacity="0.8"/>
<rect x="225.4" y="109.3" width="1.5" height="1.5" fill="#8a7055" fill-opacity="0.85"/>
<line x1="232.7" y1="108.0" x2="232.7" y2="112.0" stroke="#8a7055" stroke-width="0.6" stroke-opacity="0.8"/>
<rect x="232.0" y="109.3" width="1.5" height="1.5" fill="#8a7055" fill-opacity="0.85"/>
<line x1="239.3" y1="108.0" x2="239.3" y2="112.0" stroke="#8a7055" stroke-width="0.6" stroke-opacity="0.8"/>
<rect x="238.6" y="109.3" width="1.5" height="1.5" fill="#8a7055" fill-opacity="0.85"/>
<line x1="245.9" y1="108.0" x2="245.9" y2="112.0" stroke="#8a7055" stroke-width="0.6" stroke-opacity="0.8"/>
<rect x="245.2" y="109.3" width="1.5" height="1.5" fill="#8a7055" fill-opacity="0.85"/>
<line x1="252.5" y1="108.3" x2="252.5" y2="112.3" stroke="#8a7055" stroke-width="0.6" stroke-opacity="0.8"/>
<rect x="251.8" y="109.5" width="1.5" height="1.5" fill="#8a7055" fill-opacity="0.85"/>
<line x1="259.1" y1="112.5" x2="259.1" y2="116.5" stroke="#8a7055" stroke-width="0.6" stroke-opacity="0.8"/>
<rect x="258.4" y="113.8" width="1.5" height="1.5" fill="#8a7055" fill-opacity="0.85"/>
<line x1="265.7" y1="135.0" x2="265.7" y2="139.0" stroke="#8a7055" stroke-width="0.6" stroke-opacity="0.8"/>
<rect x="264.9" y="136.3" width="1.5" height="1.5" fill="#8a7055" fill-opacity="0.85"/>
<line x1="272.3" y1="144.4" x2="272.3" y2="148.4" stroke="#8a7055" stroke-width="0.6" stroke-opacity="0.8"/>
<rect x="271.6" y="145.6" width="1.5" height="1.5" fill="#8a7055" fill-opacity="0.85"/>
<line x1="278.9" y1="145.0" x2="278.9" y2="149.0" stroke="#8a7055" stroke-width="0.6" stroke-opacity="0.8"/>
<rect x="278.1" y="146.3" width="1.5" height="1.5" fill="#8a7055" fill-opacity="0.85"/>
<path d="M199.3,108.1 L199.8,108.1 L200.3,108.1 L200.8,108.1 L201.3,108.1 L201.8,108.1 L202.3,108.1 L202.8,108.1 L203.3,108.1 L203.8,108.1 L204.3,108.1 L204.8,108.1 L205.3,108.1 L205.8,108.1 L206.3,108.1 L206.8,108.1 L207.3,108.1 L207.8,108.1 L208.3,108.1 L208.8,108.1 L209.3,108.1 L209.8,108.1 L210.3,108.1 L210.8,108.1 L211.3,108.1 L211.8,108.1 L212.3,108.1 L212.8,108.1 L213.3,108.1 L213.8,108.1 L214.3,108.1 L214.8,108.1 L215.3,108.1 L215.8,108.1 L216.3,108.1 L216.8,108.1 L217.3,108.1 L217.8,108.1 L218.3,108.1 L218.8,108.1 L219.3,108.1 L219.8,108.1 L220.3,108.1 L220.8,108.1 L221.3,108.1 L221.8,108.1 L222.3,108.1 L222.8,108.1 L223.3,108.1 L223.8,108.1 L224.3,108.1 L224.8,108.1 L225.3,108.1 L225.8,108.1 L226.3,108.1 L226.8,108.1 L227.3,108.1 L227.8,108.1 L228.3,108.1 L228.8,108.1 L229.3,108.1 L229.8,108.1 L230.3,108.1 L230.8,108.1 L231.3,108.1 L231.8,108.1 L232.3,108.1 L232.8,108.1 L233.3,108.1 L233.8,108.1 L234.3,108.1 L234.8,108.1 L235.3,108.1 L235.8,108.1 L236.3,108.1 L236.8,108.1 L237.3,108.1 L237.8,108.1 L238.3,108.1 L238.8,108.1 L239.3,108.1 L239.8,108.1 L240.3,108.1 L240.8,108.1 L241.3,108.1 L241.8,108.1 L242.3,108.1 L242.8,108.1 L243.3,108.1 L243.8,108.2 L244.3,108.4 L244.8,108.8 L245.3,110.1 L245.8,113.6 L246.3,120.7 L246.8,130.7 L247.3,138.6 L247.8,142.7 L248.3,144.3 L248.8,144.9 L249.3,145.1 L249.8,145.1 L250.3,145.2 L250.8,145.2 L251.3,145.2 L251.8,145.2 L252.3,145.2 L252.8,145.2 L253.3,145.2 L253.8,145.2 L254.3,145.2 L254.8,145.2 L255.3,145.2 L255.8,145.2 L256.3,145.2 L256.8,145.2 L257.3,145.2 L257.8,145.2 L258.3,145.2 L258.8,145.2 L259.3,145.2 L259.8,145.2 L260.3,145.2 L260.8,145.2 L261.3,145.2 L261.8,145.2 L262.3,145.2 L262.8,145.2 L263.3,145.2 L263.8,145.2 L264.3,145.2 L264.8,145.2 L265.3,145.2 L265.8,145.2 L266.3,145.2 L266.8,145.2 L267.3,145.2 L267.8,145.2 L268.3,145.2 L268.8,145.2 L269.3,145.2 L269.8,145.2 L270.3,145.2 L270.8,145.2 L271.3,145.2 L271.8,145.2 L272.3,145.2 L272.8,145.2 L273.3,145.2 L273.8,145.2 L274.3,145.2 L274.8,145.2 L275.3,145.2 L275.8,145.2 L276.3,145.2 L276.8,145.2 L277.3,145.2 L277.8,145.2 L278.3,145.2 L278.8,145.2 L279.3,145.2 L279.8,145.2 L280.3,145.2 L280.8,145.2 L281.3,145.2 L281.3,149.0 L280.8,149.0 L280.3,149.0 L279.8,149.0 L279.3,149.0 L278.8,149.0 L278.3,149.0 L277.8,149.0 L277.3,149.0 L276.8,149.0 L276.3,149.0 L275.8,149.0 L275.3,149.0 L274.8,149.0 L274.3,149.0 L273.8,149.0 L273.3,149.0 L272.8,149.0 L272.3,149.0 L271.8,149.0 L271.3,149.0 L270.8,149.0 L270.3,149.0 L269.8,149.0 L269.3,149.0 L268.8,149.0 L268.3,149.0 L267.8,149.0 L267.3,149.0 L266.8,149.0 L266.3,149.0 L265.8,149.0 L265.3,149.0 L264.8,149.0 L264.3,149.0 L263.8,149.0 L263.3,149.0 L262.8,149.0 L262.3,149.0 L261.8,149.0 L261.3,149.0 L260.8,149.0 L260.3,149.0 L259.8,149.0 L259.3,149.0 L258.8,149.0 L258.3,149.0 L257.8,149.0 L257.3,149.0 L256.8,149.0 L256.3,149.0 L255.8,149.0 L255.3,149.0 L254.8,149.0 L254.3,149.0 L253.8,149.0 L253.3,149.0 L252.8,149.0 L252.3,149.0 L251.8,149.0 L251.3,149.0 L250.8,149.0 L250.3,149.0 L249.8,148.9 L249.3,148.9 L248.8,148.7 L248.3,148.1 L247.8,146.5 L247.3,142.4 L246.8,134.5 L246.3,124.5 L245.8,117.4 L245.3,113.9 L244.8,112.6 L244.3,112.2 L243.8,112.0 L243.3,111.9 L242.8,111.9 L242.3,111.9 L241.8,111.9 L241.3,111.9 L240.8,111.9 L240.3,111.9 L239.8,111.9 L239.3,111.9 L238.8,111.9 L238.3,111.9 L237.8,111.9 L237.3,111.9 L236.8,111.9 L236.3,111.9 L235.8,111.9 L235.3,111.9 L234.8,111.9 L234.3,111.9 L233.8,111.9 L233.3,111.9 L232.8,111.9 L232.3,111.9 L231.8,111.9 L231.3,111.9 L230.8,111.9 L230.3,111.9 L229.8,111.9 L229.3,111.9 L228.8,111.9 L228.3,111.9 L227.8,111.9 L227.3,111.9 L226.8,111.9 L226.3,111.9 L225.8,111.9 L225.3,111.9 L224.8,111.9 L224.3,111.9 L223.8,111.9 L223.3,111.9 L222.8,111.9 L222.3,111.9 L221.8,111.9 L221.3,111.9 L220.8,111.9 L220.3,111.9 L219.8,111.9 L219.3,111.9 L218.8,111.9 L218.3,111.9 L217.8,111.9 L217.3,111.9 L216.8,111.9 L216.3,111.9 L215.8,111.9 L215.3,111.9 L214.8,111.9 L214.3,111.9 L213.8,111.9 L213.3,111.9 L212.8,111.9 L212.3,111.9 L211.8,111.9 L211.3,111.9 L210.8,111.9 L210.3,111.9 L209.8,111.9 L209.3,111.9 L208.8,111.9 L208.3,111.9 L207.8,111.9 L207.3,111.9 L206.8,111.9 L206.3,111.9 L205.8,111.9 L205.3,111.9 L204.8,111.9 L204.3,111.9 L203.8,111.9 L203.3,111.9 L202.8,111.9 L202.3,111.9 L201.8,111.9 L201.3,111.9 L200.8,111.9 L200.3,111.9 L199.8,111.9 L199.3,111.9Z" fill="#eeabc3"/>
<path d="M199.3,110.0 L199.8,110.0 L200.3,110.0 L200.8,110.0 L201.3,110.0 L201.8,110.0 L202.3,110.0 L202.8,110.0 L203.3,110.0 L203.8,110.0 L204.3,110.0 L204.8,110.0 L205.3,110.0 L205.8,110.0 L206.3,110.0 L206.8,110.0 L207.3,110.0 L207.8,110.0 L208.3,110.0 L208.8,110.0 L209.3,110.0 L209.8,110.0 L210.3,110.0 L210.8,110.0 L211.3,110.0 L211.8,110.0 L212.3,110.0 L212.8,110.0 L213.3,110.0 L213.8,110.0 L214.3,110.0 L214.8,110.0 L215.3,110.0 L215.8,110.0 L216.3,110.0 L216.8,110.0 L217.3,110.0 L217.8,110.0 L218.3,110.0 L218.8,110.0 L219.3,110.0 L219.8,110.0 L220.3,110.0 L220.8,110.0 L221.3,110.0 L221.8,110.0 L222.3,110.0 L222.8,110.0 L223.3,110.0 L223.8,110.0 L224.3,110.0 L224.8,110.0 L225.3,110.0 L225.8,110.0 L226.3,110.0 L226.8,110.0 L227.3,110.0 L227.8,110.0 L228.3,110.0 L228.8,110.0 L229.3,110.0 L229.8,110.0 L230.3,110.0 L230.8,110.0 L231.3,110.0 L231.8,110.0 L232.3,110.0 L232.8,110.0 L233.3,110.0 L233.8,110.0 L234.3,110.0 L234.8,110.0 L235.3,110.0 L235.8,110.0 L236.3,110.0 L236.8,110.0 L237.3,110.0 L237.8,110.0 L238.3,110.0 L238.8,110.0 L239.3,110.0 L239.8,110.0 L240.3,110.0 L240.8,110.0 L241.3,110.0 L241.8,110.0 L242.3,110.0 L242.8,110.0 L243.3,110.0 L243.8,110.1 L244.3,110.3 L244.8,110.7 L245.3,112.0 L245.8,115.5 L246.3,122.6 L246.8,132.6 L247.3,140.5 L247.8,144.6 L248.3,146.2 L248.8,146.8 L249.3,147.0 L249.8,147.0 L250.3,147.1 L250.8,147.1 L251.3,147.1 L251.8,147.1 L252.3,147.1 L252.8,147.1 L253.3,147.1 L253.8,147.1 L254.3,147.1 L254.8,147.1 L255.3,147.1 L255.8,147.1 L256.3,147.1 L256.8,147.1 L257.3,147.1 L257.8,147.1 L258.3,147.1 L258.8,147.1 L259.3,147.1 L259.8,147.1 L260.3,147.1 L260.8,147.1 L261.3,147.1 L261.8,147.1 L262.3,147.1 L262.8,147.1 L263.3,147.1 L263.8,147.1 L264.3,147.1 L264.8,147.1 L265.3,147.1 L265.8,147.1 L266.3,147.1 L266.8,147.1 L267.3,147.1 L267.8,147.1 L268.3,147.1 L268.8,147.1 L269.3,147.1 L269.8,147.1 L270.3,147.1 L270.8,147.1 L271.3,147.1 L271.8,147.1 L272.3,147.1 L272.8,147.1 L273.3,147.1 L273.8,147.1 L274.3,147.1 L274.8,147.1 L275.3,147.1 L275.8,147.1 L276.3,147.1 L276.8,147.1 L277.3,147.1 L277.8,147.1 L278.3,147.1 L278.8,147.1 L279.3,147.1 L279.8,147.1 L280.3,147.1 L280.8,147.1 L281.3,147.1" fill="none" stroke="#d8467c" stroke-width="1.2"/>
<line x1="206.3" y1="108.0" x2="206.3" y2="112.0" stroke="#8a4a5a" stroke-width="0.6" stroke-opacity="0.8"/>
<rect x="205.6" y="109.3" width="1.5" height="1.5" fill="#8a4a5a" fill-opacity="0.85"/>
<line x1="212.9" y1="108.0" x2="212.9" y2="112.0" stroke="#8a4a5a" stroke-width="0.6" stroke-opacity="0.8"/>
<rect x="212.2" y="109.3" width="1.5" height="1.5" fill="#8a4a5a" fill-opacity="0.85"/>
<line x1="219.5" y1="108.0" x2="219.5" y2="112.0" stroke="#8a4a5a" stroke-width="0.6" stroke-opacity="0.8"/>
<rect x="218.8" y="109.3" width="1.5" height="1.5" fill="#8a4a5a" fill-opacity="0.85"/>
<line x1="226.1" y1="108.0" x2="226.1" y2="112.0" stroke="#8a4a5a" stroke-width="0.6" stroke-opacity="0.8"/>
<rect x="225.4" y="109.3" width="1.5" height="1.5" fill="#8a4a5a" fill-opacity="0.85"/>
<line x1="232.7" y1="108.0" x2="232.7" y2="112.0" stroke="#8a4a5a" stroke-width="0.6" stroke-opacity="0.8"/>
<rect x="232.0" y="109.3" width="1.5" height="1.5" fill="#8a4a5a" fill-opacity="0.85"/>
<line x1="239.3" y1="108.0" x2="239.3" y2="112.0" stroke="#8a4a5a" stroke-width="0.6" stroke-opacity="0.8"/>
<rect x="238.6" y="109.3" width="1.5" height="1.5" fill="#8a4a5a" fill-opacity="0.85"/>
<line x1="245.9" y1="114.6" x2="245.9" y2="118.6" stroke="#8a4a5a" stroke-width="0.6" stroke-opacity="0.8"/>
<rect x="245.2" y="115.8" width="1.5" height="1.5" fill="#8a4a5a" fill-opacity="0.85"/>
<line x1="252.5" y1="145.1" x2="252.5" y2="149.1" stroke="#8a4a5a" stroke-width="0.6" stroke-opacity="0.8"/>
<rect x="251.8" y="146.3" width="1.5" height="1.5" fill="#8a4a5a" fill-opacity="0.85"/>
<line x1="259.1" y1="145.1" x2="259.1" y2="149.1" stroke="#8a4a5a" stroke-width="0.6" stroke-opacity="0.8"/>
<rect x="258.4" y="146.3" width="1.5" height="1.5" fill="#8a4a5a" fill-opacity="0.85"/>
<line x1="265.7" y1="145.1" x2="265.7" y2="149.1" stroke="#8a4a5a" stroke-width="0.6" stroke-opacity="0.8"/>
<rect x="264.9" y="146.3" width="1.5" height="1.5" fill="#8a4a5a" fill-opacity="0.85"/>
<line x1="272.3" y1="145.1" x2="272.3" y2="149.1" stroke="#8a4a5a" stroke-width="0.6" stroke-opacity="0.8"/>
<rect x="271.6" y="146.3" width="1.5" height="1.5" fill="#8a4a5a" fill-opacity="0.85"/>
<line x1="278.9" y1="145.1" x2="278.9" y2="149.1" stroke="#8a4a5a" stroke-width="0.6" stroke-opacity="0.8"/>
<rect x="278.1" y="146.3" width="1.5" height="1.5" fill="#8a4a5a" fill-opacity="0.85"/>
<rect x="198.8" y="89.3" width="83.80000000000001" height="62.7" fill="none" stroke="#4f4f4f" stroke-width="1.4"/>
<text x="225.8" y="98.4" font-size="7.4" textLength="28.7" lengthAdjust="spacingAndGlyphs" fill="#252525">KYSE510</text>
<text x="22.6" y="153.9" font-size="6.4" text-anchor="end" font-weight="bold" fill="#222">0</text>
<text x="22.6" y="138.78" font-size="6.4" text-anchor="end" font-weight="bold" fill="#222">40</text>
<text x="22.6" y="123.65999999999998" font-size="6.4" text-anchor="end" font-weight="bold" fill="#222">80</text>
<text x="22.6" y="108.53999999999999" font-size="6.4" text-anchor="end" font-weight="bold" fill="#222">120</text>
<text x="22.6" y="93.41999999999999" font-size="6.4" text-anchor="end" font-weight="bold" fill="#222">160</text>
<circle cx="126.9" cy="34.3" r="0.8" fill="#a2405e"/>
<circle cx="139.7" cy="35.2" r="0.8" fill="#a2405e"/>
<circle cx="146.4" cy="33.6" r="0.8" fill="#a2405e"/>
<circle cx="132.2" cy="96.5" r="0.8" fill="#a2405e"/>
<circle cx="139.4" cy="95.2" r="0.8" fill="#a2405e"/>
<circle cx="126.3" cy="97.6" r="0.8" fill="#a2405e"/>
<text x="36.7" y="160.2" font-size="5.9" font-weight="bold" textLength="25.3" lengthAdjust="spacingAndGlyphs" fill="#222">1.0E-005</text>
<text x="64.69999999999999" y="160.2" font-size="5.9" font-weight="bold" textLength="24.5" lengthAdjust="spacingAndGlyphs" fill="#222">1.0E-003</text>
<text x="123.2" y="160.2" font-size="5.9" font-weight="bold" textLength="25.3" lengthAdjust="spacingAndGlyphs" fill="#222">1.0E-005</text>
<text x="151.2" y="160.2" font-size="5.9" font-weight="bold" textLength="24.5" lengthAdjust="spacingAndGlyphs" fill="#222">1.0E-003</text>
<text x="210.60000000000002" y="160.2" font-size="5.9" font-weight="bold" textLength="25.3" lengthAdjust="spacingAndGlyphs" fill="#222">1.0E-005</text>
<text x="238.60000000000002" y="160.2" font-size="5.9" font-weight="bold" textLength="24.5" lengthAdjust="spacingAndGlyphs" fill="#222">1.0E-003</text>
<text x="105" y="176.6" font-size="9.6" textLength="117" lengthAdjust="spacingAndGlyphs" fill="#333">Drug concentration (μmol/L)</text>
<text x="9.6" y="85" font-size="10.5" text-anchor="middle" textLength="82" lengthAdjust="spacingAndGlyphs" transform="rotate(-90 9.6 85)" fill="#333">% Growth inhibition</text>
<text x="293.2" y="11.8" font-size="14" font-weight="bold" fill="#111">B</text>
<path d="M343.0,120.3 L355.9,119.0 L368.8,105.7 L420.2,90.8 L497.5,85.4" fill="none" stroke="#2d4c9c" stroke-width="1.4"/>
<circle cx="343.0" cy="120.3" r="2.1" fill="#2d4c9c"/>
<circle cx="355.9" cy="119.0" r="2.1" fill="#2d4c9c"/>
<circle cx="368.8" cy="105.7" r="2.1" fill="#2d4c9c"/>
<circle cx="420.2" cy="90.8" r="2.1" fill="#2d4c9c"/>
<circle cx="497.5" cy="85.4" r="2.1" fill="#2d4c9c"/>
<path d="M343.0,120.3 L355.9,100.1 L368.8,79.3 L420.2,73.0 L497.5,72.4" fill="none" stroke="#2d4c9c" stroke-width="1.4"/>
<path d="M340.7,118.7 L345.3,118.7 L343.0,122.5Z" fill="#2d4c9c"/>
<path d="M353.6,98.5 L358.2,98.5 L355.9,102.3Z" fill="#2d4c9c"/>
<path d="M366.4,77.7 L371.1,77.7 L368.8,81.5Z" fill="#2d4c9c"/>
<path d="M417.9,71.4 L422.6,71.4 L420.2,75.2Z" fill="#2d4c9c"/>
<path d="M495.2,70.8 L499.8,70.8 L497.5,74.6Z" fill="#2d4c9c"/>
<path d="M343.0,120.3 L355.9,95.9 L368.8,72.4 L420.2,69.9 L497.5,61.4" fill="none" stroke="#23408f" stroke-width="1.4"/>
<rect x="341.0" y="118.3" width="4" height="4" fill="#23408f"/>
<rect x="353.9" y="93.9" width="4" height="4" fill="#23408f"/>
<rect x="366.8" y="70.4" width="4" height="4" fill="#23408f"/>
<rect x="418.2" y="67.9" width="4" height="4" fill="#23408f"/>
<rect x="495.5" y="59.4" width="4" height="4" fill="#23408f"/>
<path d="M343.0,120.3 L355.9,119.6 L368.8,117.5 L420.2,113.0 L497.5,110.6" fill="none" stroke="#e0323c" stroke-width="1.4"/>
<circle cx="343.0" cy="120.3" r="1.8" fill="#e0323c"/>
<circle cx="355.9" cy="119.6" r="1.8" fill="#e0323c"/>
<circle cx="368.8" cy="117.5" r="1.8" fill="#e0323c"/>
<circle cx="420.2" cy="113.0" r="1.8" fill="#e0323c"/>
<circle cx="497.5" cy="110.6" r="1.8" fill="#e0323c"/>
<path d="M343.0,120.3 L355.9,119.5 L368.8,117.0 L420.2,111.6 L497.5,109.0" fill="none" stroke="#e0323c" stroke-width="1.4"/>
<circle cx="343.0" cy="120.3" r="1.8" fill="#e0323c"/>
<circle cx="355.9" cy="119.5" r="1.8" fill="#e0323c"/>
<circle cx="368.8" cy="117.0" r="1.8" fill="#e0323c"/>
<circle cx="420.2" cy="111.6" r="1.8" fill="#e0323c"/>
<circle cx="497.5" cy="109.0" r="1.8" fill="#e0323c"/>
<path d="M343.0,120.3 L355.9,119.3 L368.8,116.2 L420.2,102.7 L497.5,99.4" fill="none" stroke="#e0323c" stroke-width="1.4"/>
<path d="M340.7,121.9 L345.3,121.9 L343.0,118.1Z" fill="#e0323c"/>
<path d="M353.6,120.9 L358.2,120.9 L355.9,117.1Z" fill="#e0323c"/>
<path d="M366.4,117.8 L371.1,117.8 L368.8,114.0Z" fill="#e0323c"/>
<path d="M417.9,104.3 L422.6,104.3 L420.2,100.5Z" fill="#e0323c"/>
<path d="M495.2,101.0 L499.8,101.0 L497.5,97.2Z" fill="#e0323c"/>
<path d="M497.5,81.1 V89.3 M495.9,81.1 H499.1 M495.9,89.3 H499.1" stroke="#2d4c9c" stroke-width="1" fill="none"/>
<line x1="343" y1="32.3" x2="343" y2="142.3" stroke="#111" stroke-width="1.2"/>
<line x1="343" y1="120.3" x2="498.0" y2="120.3" stroke="#111" stroke-width="1.1"/>
<line x1="340.3" y1="32.3" x2="343" y2="32.3" stroke="#111" stroke-width="1.1"/>
<text x="338.8" y="35.0" font-size="7.4" text-anchor="end" font-weight="bold" fill="#1a1a1a">0.8</text>
<line x1="340.3" y1="54.3" x2="343" y2="54.3" stroke="#111" stroke-width="1.1"/>
<text x="338.8" y="57.0" font-size="7.4" text-anchor="end" font-weight="bold" fill="#1a1a1a">0.6</text>
<line x1="340.3" y1="76.3" x2="343" y2="76.3" stroke="#111" stroke-width="1.1"/>
<text x="338.8" y="79.0" font-size="7.4" text-anchor="end" font-weight="bold" fill="#1a1a1a">0.4</text>
<line x1="340.3" y1="98.3" x2="343" y2="98.3" stroke="#111" stroke-width="1.1"/>
<text x="338.8" y="101.0" font-size="7.4" text-anchor="end" font-weight="bold" fill="#1a1a1a">0.2</text>
<line x1="340.3" y1="120.3" x2="343" y2="120.3" stroke="#111" stroke-width="1.1"/>
<text x="338.8" y="123.0" font-size="7.4" text-anchor="end" font-weight="bold" fill="#1a1a1a">0.0</text>
<line x1="340.3" y1="142.3" x2="343" y2="142.3" stroke="#111" stroke-width="1.1"/>
<text x="338.8" y="145.0" font-size="7.4" text-anchor="end" font-weight="bold" fill="#1a1a1a">-0.2</text>
<line x1="394.5" y1="120.3" x2="394.5" y2="122.8" stroke="#111" stroke-width="1.1"/>
<text x="394.5" y="132.9" font-size="8" text-anchor="middle" font-weight="bold" fill="#1a1a1a">20</text>
<line x1="446.0" y1="120.3" x2="446.0" y2="122.8" stroke="#111" stroke-width="1.1"/>
<text x="446.0" y="132.9" font-size="8" text-anchor="middle" font-weight="bold" fill="#1a1a1a">40</text>
<line x1="497.5" y1="120.3" x2="497.5" y2="122.8" stroke="#111" stroke-width="1.1"/>
<text x="497.5" y="132.9" font-size="8" text-anchor="middle" font-weight="bold" fill="#1a1a1a">60</text>
<text x="409.5" y="148.4" font-size="11.5" textLength="38.5" lengthAdjust="spacingAndGlyphs" fill="#333">Minutes</text>
<text x="319.5" y="151.8" font-size="12.6" textLength="124.6" lengthAdjust="spacingAndGlyphs" transform="rotate(-90 319.5 151.8)" fill="#1e1e1e">% Total A488 internalized</text>
<line x1="375.5" y1="32" x2="385.0" y2="32" stroke="#e0323c" stroke-width="1.1"/>
<circle cx="380.2" cy="32" r="1.3" fill="#e0323c"/>
<text x="387.7" y="34.4" font-size="6.6" font-weight="bold" textLength="16" lengthAdjust="spacingAndGlyphs" fill="#222">A431</text>
<line x1="375.5" y1="40" x2="385.0" y2="40" stroke="#e0323c" stroke-width="1.1"/>
<circle cx="380.2" cy="40" r="1.3" fill="#e0323c"/>
<text x="387.7" y="42.4" font-size="6.6" font-weight="bold" textLength="23" lengthAdjust="spacingAndGlyphs" fill="#222">BICR22</text>
<line x1="375.5" y1="48.7" x2="385.0" y2="48.7" stroke="#2d4c9c" stroke-width="1.1"/>
<circle cx="380.2" cy="48.7" r="1.3" fill="#2d4c9c"/>
<text x="387.7" y="51.1" font-size="6.6" font-weight="bold" textLength="27" lengthAdjust="spacingAndGlyphs" fill="#222">HCC1954</text>
<line x1="428" y1="32" x2="437.5" y2="32" stroke="#e0323c" stroke-width="1.1"/>
<circle cx="432.7" cy="32" r="1.3" fill="#e0323c"/>
<text x="440.2" y="34.4" font-size="6.6" font-weight="bold" textLength="27" lengthAdjust="spacingAndGlyphs" fill="#222">KYSE510</text>
<line x1="428" y1="40" x2="437.5" y2="40" stroke="#23408f" stroke-width="1.1"/>
<circle cx="432.7" cy="40" r="1.3" fill="#23408f"/>
<text x="440.2" y="42.4" font-size="6.6" font-weight="bold" textLength="32.5" lengthAdjust="spacingAndGlyphs" fill="#222">COLO680N</text>
<line x1="428" y1="48.7" x2="437.5" y2="48.7" stroke="#23408f" stroke-width="1.1"/>
<circle cx="432.7" cy="48.7" r="1.3" fill="#23408f"/>
<text x="440.2" y="51.1" font-size="6.6" font-weight="bold" textLength="21" lengthAdjust="spacingAndGlyphs" fill="#222">HCC70</text>
<text x="1.4" y="183.2" font-size="14" font-weight="bold" fill="#111">C</text>
<text x="265.2" y="183.2" font-size="14" font-weight="bold" fill="#111">D</text>
<rect x="37.3" y="190.6" width="200.7" height="180.4" fill="#fff" stroke="#e6e6e6" stroke-width="0.8"/>
<rect x="37.3" y="190.6" width="200.7" height="12.900000000000006" fill="#fbfbfb" stroke="#ececec" stroke-width="0.6"/>
<rect x="37.8" y="191.1" width="10" height="11.900000000000006" fill="#f3f3f3"/>
<rect x="224.5" y="191.1" width="13" height="11.900000000000006" fill="#f3f3f3"/>
<line x1="37.3" y1="207.7" x2="238" y2="207.7" stroke="#c4c4c4" stroke-width="0.9" stroke-dasharray="2,1.5"/>
<line x1="37.3" y1="220.1" x2="238" y2="220.1" stroke="#c4c4c4" stroke-width="0.9" stroke-dasharray="2,1.5"/>
<text x="91.3" y="201.3" font-size="8.9" textLength="96.2" lengthAdjust="spacingAndGlyphs" fill="#1e1e1e">HCC1954&#160; Day 10&#160; PCA062</text>
<text x="32.3" y="215.20000000000002" font-size="7.9" text-anchor="end" fill="#151515">0</text>
<line x1="35.8" y1="212.4" x2="37.3" y2="212.4" stroke="#ddd" stroke-width="0.6"/>
<text x="32.3" y="230.16000000000003" font-size="7.9" text-anchor="end" fill="#151515">-2</text>
<line x1="35.8" y1="227.4" x2="37.3" y2="227.4" stroke="#ddd" stroke-width="0.6"/>
<text x="32.3" y="245.12" font-size="7.9" text-anchor="end" fill="#151515">-4</text>
<line x1="35.8" y1="242.3" x2="37.3" y2="242.3" stroke="#ddd" stroke-width="0.6"/>
<text x="32.3" y="260.08000000000004" font-size="7.9" text-anchor="end" fill="#151515">-6</text>
<line x1="35.8" y1="257.3" x2="37.3" y2="257.3" stroke="#ddd" stroke-width="0.6"/>
<text x="32.3" y="275.04" font-size="7.9" text-anchor="end" fill="#151515">-8</text>
<line x1="35.8" y1="272.2" x2="37.3" y2="272.2" stroke="#ddd" stroke-width="0.6"/>
<text x="32.3" y="290.00000000000006" font-size="7.9" text-anchor="end" fill="#151515">-10</text>
<line x1="35.8" y1="287.2" x2="37.3" y2="287.2" stroke="#ddd" stroke-width="0.6"/>
<text x="32.3" y="304.96000000000004" font-size="7.9" text-anchor="end" fill="#151515">-12</text>
<line x1="35.8" y1="302.2" x2="37.3" y2="302.2" stroke="#ddd" stroke-width="0.6"/>
<text x="32.3" y="319.92" font-size="7.9" text-anchor="end" fill="#151515">-14</text>
<line x1="35.8" y1="317.1" x2="37.3" y2="317.1" stroke="#ddd" stroke-width="0.6"/>
<text x="32.3" y="334.88000000000005" font-size="7.9" text-anchor="end" fill="#151515">-16</text>
<line x1="35.8" y1="332.1" x2="37.3" y2="332.1" stroke="#ddd" stroke-width="0.6"/>
<text x="32.3" y="349.84000000000003" font-size="7.9" text-anchor="end" fill="#151515">-18</text>
<line x1="35.8" y1="347.0" x2="37.3" y2="347.0" stroke="#ddd" stroke-width="0.6"/>
<text x="32.3" y="364.8" font-size="7.9" text-anchor="end" fill="#151515">-20</text>
<line x1="35.8" y1="362.0" x2="37.3" y2="362.0" stroke="#ddd" stroke-width="0.6"/>
<path d="M45.70,259.50 C45.71,257.92 45.73,252.92 45.75,250.00 C45.77,247.08 45.66,245.00 45.80,242.00 C45.94,239.00 46.20,234.83 46.60,232.00 C47.00,229.17 47.43,227.00 48.20,225.00 C48.97,223.00 49.98,221.33 51.20,220.00 C52.42,218.67 53.90,217.80 55.50,217.00 C57.10,216.20 56.72,215.63 60.80,215.20 C64.88,214.77 70.13,214.62 80.00,214.40 C89.87,214.18 105.00,214.07 120.00,213.90 C135.00,213.73 151.57,213.58 170.00,213.40 C188.43,213.22 220.50,212.90 230.60,212.80" fill="none" stroke="url(#gc)" stroke-width="2.6" stroke-linecap="round"/>
<circle cx="45.8" cy="243.1" r="1.3" fill="#34506e"/>
<circle cx="45.8" cy="247.4" r="1.3" fill="#34506e"/>
<circle cx="45.8" cy="248.9" r="1.3" fill="#34506e"/>
<circle cx="45.8" cy="252.0" r="1.3" fill="#34506e"/>
<circle cx="45.8" cy="277.0" r="1.3" fill="#34506e"/>
<circle cx="45.8" cy="288.7" r="1.3" fill="#34506e"/>
<circle cx="45.8" cy="291.6" r="1.3" fill="#34506e"/>
<circle cx="45.8" cy="308.0" r="1.3" fill="#34506e"/>
<circle cx="45.8" cy="324.6" r="1.3" fill="#34506e"/>
<circle cx="45.8" cy="363.6" r="1.3" fill="#34506e"/>
<rect x="44.3" y="263.2" width="3" height="4.2" fill="#34506e"/>
<text x="53" y="240.7" font-size="6.8" textLength="26.6" lengthAdjust="spacingAndGlyphs" fill="#2a2a2a">SUPT20H</text>
<text x="53" y="246.6" font-size="6.8" textLength="18.7" lengthAdjust="spacingAndGlyphs" fill="#2a2a2a">TADA3</text>
<text x="53" y="254.6" font-size="6.8" textLength="18" lengthAdjust="spacingAndGlyphs" fill="#2a2a2a">TAF10</text>
<text x="53" y="264.2" font-size="6.8" textLength="26.9" lengthAdjust="spacingAndGlyphs" fill="#2a2a2a">CCDC101</text>
<text x="53" y="271.6" font-size="6.8" textLength="19.2" lengthAdjust="spacingAndGlyphs" fill="#2a2a2a">TADA1</text>
<text x="53.4" y="289.2" font-size="6.8" textLength="23.6" lengthAdjust="spacingAndGlyphs" fill="#2a2a2a">TADA2B</text>
<text x="54.5" y="310.4" font-size="6.8" textLength="17.2" lengthAdjust="spacingAndGlyphs" fill="#2a2a2a">TAF5L</text>
<text x="50.2" y="327.2" font-size="6.8" textLength="26" lengthAdjust="spacingAndGlyphs" fill="#2a2a2a">SLC46A3</text>
<text x="54" y="366.5" font-size="6.8" textLength="17.3" lengthAdjust="spacingAndGlyphs" fill="#2a2a2a">CDH3</text>
<text x="14.0" y="291.0" font-size="9.6" text-anchor="middle" textLength="70" lengthAdjust="spacingAndGlyphs" transform="rotate(-90 14.0 291.0)" fill="#2a2a2a">log FDR Activator</text>
<text x="116.3" y="386" font-size="9.7" textLength="21.6" lengthAdjust="spacingAndGlyphs" fill="#333">Gene</text>
<rect x="299.5" y="192" width="200.5" height="180" fill="#fff" stroke="#e6e6e6" stroke-width="0.8"/>
<rect x="299.5" y="192" width="200.5" height="12.5" fill="#fbfbfb" stroke="#ececec" stroke-width="0.6"/>
<rect x="300.0" y="192.5" width="10" height="11.5" fill="#f3f3f3"/>
<rect x="486.5" y="192.5" width="13" height="11.5" fill="#f3f3f3"/>
<line x1="299.5" y1="208.9" x2="500" y2="208.9" stroke="#c4c4c4" stroke-width="0.9" stroke-dasharray="2,1.5"/>
<line x1="299.5" y1="222.8" x2="500" y2="222.8" stroke="#c4c4c4" stroke-width="0.9" stroke-dasharray="2,1.5"/>
<text x="352.9" y="203.2" font-size="8.9" textLength="97.6" lengthAdjust="spacingAndGlyphs" fill="#1e1e1e">KYSE510&#160; Day 7&#160; PCA062</text>
<text x="294.0" y="217.60000000000002" font-size="7.9" text-anchor="end" fill="#151515">0</text>
<line x1="298" y1="214.8" x2="299.5" y2="214.8" stroke="#ddd" stroke-width="0.6"/>
<text x="294.0" y="231.372" font-size="7.9" text-anchor="end" fill="#151515">-2</text>
<line x1="298" y1="228.6" x2="299.5" y2="228.6" stroke="#ddd" stroke-width="0.6"/>
<text x="294.0" y="245.14400000000003" font-size="7.9" text-anchor="end" fill="#151515">-4</text>
<line x1="298" y1="242.3" x2="299.5" y2="242.3" stroke="#ddd" stroke-width="0.6"/>
<text x="294.0" y="258.916" font-size="7.9" text-anchor="end" fill="#151515">-6</text>
<line x1="298" y1="256.1" x2="299.5" y2="256.1" stroke="#ddd" stroke-width="0.6"/>
<text x="294.0" y="272.68800000000005" font-size="7.9" text-anchor="end" fill="#151515">-8</text>
<line x1="298" y1="269.9" x2="299.5" y2="269.9" stroke="#ddd" stroke-width="0.6"/>
<text x="294.0" y="286.46000000000004" font-size="7.9" text-anchor="end" fill="#151515">-10</text>
<line x1="298" y1="283.7" x2="299.5" y2="283.7" stroke="#ddd" stroke-width="0.6"/>
<text x="294.0" y="300.232" font-size="7.9" text-anchor="end" fill="#151515">-12</text>
<line x1="298" y1="297.4" x2="299.5" y2="297.4" stroke="#ddd" stroke-width="0.6"/>
<text x="294.0" y="314.004" font-size="7.9" text-anchor="end" fill="#151515">-14</text>
<line x1="298" y1="311.2" x2="299.5" y2="311.2" stroke="#ddd" stroke-width="0.6"/>
<text x="294.0" y="327.776" font-size="7.9" text-anchor="end" fill="#151515">-16</text>
<line x1="298" y1="325.0" x2="299.5" y2="325.0" stroke="#ddd" stroke-width="0.6"/>
<text x="294.0" y="341.54800000000006" font-size="7.9" text-anchor="end" fill="#151515">-18</text>
<line x1="298" y1="338.7" x2="299.5" y2="338.7" stroke="#ddd" stroke-width="0.6"/>
<text x="294.0" y="355.32" font-size="7.9" text-anchor="end" fill="#151515">-20</text>
<line x1="298" y1="352.5" x2="299.5" y2="352.5" stroke="#ddd" stroke-width="0.6"/>
<text x="294.0" y="369.09200000000004" font-size="7.9" text-anchor="end" fill="#151515">-22</text>
<line x1="298" y1="366.3" x2="299.5" y2="366.3" stroke="#ddd" stroke-width="0.6"/>
<defs><linearGradient id="gd" gradientUnits="userSpaceOnUse" x1="0" y1="280" x2="0" y2="235"><stop offset="0" stop-color="#d3d9df"/><stop offset="0.55" stop-color="#b4bcc5"/><stop offset="1" stop-color="#a5aeb8"/></linearGradient><linearGradient id="gc" gradientUnits="userSpaceOnUse" x1="0" y1="260" x2="0" y2="238"><stop offset="0" stop-color="#dde2e7"/><stop offset="1" stop-color="#a9b3bd"/></linearGradient></defs>
<path d="M308.30,279.00 C308.45,276.17 308.77,267.22 309.20,262.00 C309.63,256.78 310.30,251.62 310.90,247.70 C311.50,243.78 312.00,241.15 312.80,238.50 C313.60,235.85 314.63,233.72 315.70,231.80 C316.77,229.88 317.88,228.33 319.20,227.00 C320.52,225.67 321.02,224.98 323.60,223.80 C326.18,222.62 328.87,221.00 334.70,219.90 C340.53,218.80 347.72,217.85 358.60,217.20 C369.48,216.55 384.77,216.27 400.00,216.00 C415.23,215.73 434.72,215.73 450.00,215.60 C465.28,215.47 484.75,215.27 491.70,215.20" fill="none" stroke="url(#gd)" stroke-width="3.6" stroke-linecap="round"/>
<circle cx="307.6" cy="286.3" r="1.3" fill="#3a3f48"/>
<circle cx="307.6" cy="291.2" r="1.3" fill="#3a3f48"/>
<circle cx="307.6" cy="335.6" r="1.3" fill="#3a3f48"/>
<circle cx="307.6" cy="364.6" r="1.3" fill="#3a3f48"/>
<text x="315.6" y="287.6" font-size="6.9" textLength="22.2" lengthAdjust="spacingAndGlyphs" fill="#2a2a2a">LRRC40</text>
<text x="315.6" y="294.6" font-size="6.9" textLength="26.2" lengthAdjust="spacingAndGlyphs" fill="#2a2a2a">PPP2R2A</text>
<text x="318.1" y="337.9" font-size="6.9" textLength="18.9" lengthAdjust="spacingAndGlyphs" fill="#2a2a2a">UBE2S</text>
<text x="318.8" y="366.4" font-size="6.9" textLength="18.2" lengthAdjust="spacingAndGlyphs" fill="#2a2a2a">ABCC1</text>
<text x="277.2" y="290.7" font-size="9.6" text-anchor="middle" textLength="73.5" lengthAdjust="spacingAndGlyphs" transform="rotate(-90 277.2 290.7)" fill="#2a2a2a">log FDR Sensitizer</text>
<text x="385.6" y="388.7" font-size="9.7" textLength="21.6" lengthAdjust="spacingAndGlyphs" fill="#333">Gene</text>
<text x="2.0" y="386.8" font-size="14" font-weight="bold" fill="#111">E</text>
<rect x="26.7" y="399.8" width="122.7" height="143.99999999999994" fill="#ebebeb"/>
<line x1="26.7" y1="541.7" x2="149.4" y2="541.7" stroke="#f5f5f5" stroke-width="0.5"/>
<line x1="26.7" y1="502.3" x2="149.4" y2="502.3" stroke="#f5f5f5" stroke-width="0.5"/>
<line x1="26.7" y1="462.9" x2="149.4" y2="462.9" stroke="#f5f5f5" stroke-width="0.5"/>
<line x1="26.7" y1="423.5" x2="149.4" y2="423.5" stroke="#f5f5f5" stroke-width="0.5"/>
<line x1="26.7" y1="522.0" x2="149.4" y2="522.0" stroke="#ffffff" stroke-width="0.9"/>
<line x1="26.7" y1="482.6" x2="149.4" y2="482.6" stroke="#ffffff" stroke-width="0.9"/>
<line x1="26.7" y1="443.2" x2="149.4" y2="443.2" stroke="#ffffff" stroke-width="0.9"/>
<line x1="26.7" y1="403.8" x2="149.4" y2="403.8" stroke="#ffffff" stroke-width="0.9"/>
<line x1="60.6" y1="399.8" x2="60.6" y2="543.8" stroke="#ffffff" stroke-width="0.9"/>
<line x1="116.8" y1="399.8" x2="116.8" y2="543.8" stroke="#ffffff" stroke-width="0.9"/>
<line x1="24.9" y1="522.0" x2="26.7" y2="522.0" stroke="#444" stroke-width="0.5"/>
<text x="24.6" y="523.7" font-size="4.8" text-anchor="end" fill="#707070">25</text>
<line x1="24.9" y1="482.6" x2="26.7" y2="482.6" stroke="#444" stroke-width="0.5"/>
<text x="24.6" y="484.3" font-size="4.8" text-anchor="end" fill="#707070">50</text>
<line x1="24.9" y1="443.2" x2="26.7" y2="443.2" stroke="#444" stroke-width="0.5"/>
<text x="24.6" y="444.90000000000003" font-size="4.8" text-anchor="end" fill="#707070">75</text>
<line x1="24.9" y1="403.8" x2="26.7" y2="403.8" stroke="#444" stroke-width="0.5"/>
<text x="24.6" y="405.5" font-size="4.8" text-anchor="end" fill="#707070">100</text>
<line x1="60.6" y1="421.5" x2="60.6" y2="478.7" stroke="#f8766d" stroke-width="0.6" stroke-opacity="0.7"/>
<line x1="60.6" y1="519.0" x2="60.6" y2="534.4" stroke="#f8766d" stroke-width="0.6" stroke-opacity="0.7"/>
<rect x="39.8" y="478.7" width="41.900000000000006" height="40.30000000000001" fill="#fff" stroke="#f8766d" stroke-width="0.75" stroke-opacity="0.8"/>
<line x1="39.8" y1="503.3" x2="81.7" y2="503.3" stroke="#f8766d" stroke-width="1.1"/>
<line x1="116.6" y1="503.7" x2="116.6" y2="514.6" stroke="#00bfc4" stroke-width="0.6" stroke-opacity="0.7"/>
<line x1="116.6" y1="528.7" x2="116.6" y2="537.7" stroke="#00bfc4" stroke-width="0.6" stroke-opacity="0.7"/>
<rect x="95.6" y="514.6" width="41.70000000000002" height="14.100000000000023" fill="#fff" stroke="#00bfc4" stroke-width="0.75" stroke-opacity="0.8"/>
<line x1="95.6" y1="522.3" x2="137.3" y2="522.3" stroke="#00bfc4" stroke-width="1.1"/>
<circle cx="57.5" cy="406.2" r="1.1" fill="#dc5f5a"/>
<circle cx="61" cy="406.2" r="1.1" fill="#dc5f5a"/>
<circle cx="57.8" cy="427.5" r="1.1" fill="#dc5f5a"/>
<circle cx="58.8" cy="429.5" r="1.1" fill="#dc5f5a"/>
<circle cx="56.3" cy="452.8" r="1.1" fill="#dc5f5a"/>
<circle cx="63.5" cy="450.7" r="1.1" fill="#dc5f5a"/>
<circle cx="56.5" cy="463.2" r="1.1" fill="#dc5f5a"/>
<circle cx="60.3" cy="461.5" r="1.1" fill="#dc5f5a"/>
<circle cx="58.2" cy="469.3" r="1.1" fill="#dc5f5a"/>
<circle cx="58" cy="474.5" r="1.1" fill="#dc5f5a"/>
<circle cx="64.4" cy="482.6" r="1.1" fill="#dc5f5a"/>
<circle cx="65" cy="488.5" r="1.1" fill="#dc5f5a"/>
<circle cx="64.2" cy="490.5" r="1.1" fill="#dc5f5a"/>
<circle cx="61.9" cy="493.7" r="1.1" fill="#dc5f5a"/>
<circle cx="59.6" cy="494" r="1.1" fill="#dc5f5a"/>
<circle cx="65.2" cy="499.8" r="1.1" fill="#dc5f5a"/>
<circle cx="63.8" cy="503.5" r="1.1" fill="#dc5f5a"/>
<circle cx="61.3" cy="505.5" r="1.1" fill="#dc5f5a"/>
<circle cx="59.6" cy="506.2" r="1.1" fill="#dc5f5a"/>
<circle cx="65.5" cy="507.3" r="1.1" fill="#dc5f5a"/>
<circle cx="55" cy="518" r="1.1" fill="#dc5f5a"/>
<circle cx="56.5" cy="520" r="1.1" fill="#dc5f5a"/>
<circle cx="61.5" cy="518.5" r="1.1" fill="#dc5f5a"/>
<circle cx="58.2" cy="521.4" r="1.1" fill="#dc5f5a"/>
<circle cx="60.8" cy="521" r="1.1" fill="#dc5f5a"/>
<circle cx="62.5" cy="521" r="1.1" fill="#dc5f5a"/>
<circle cx="55.5" cy="524.6" r="1.1" fill="#dc5f5a"/>
<circle cx="58.3" cy="529.7" r="1.1" fill="#dc5f5a"/>
<circle cx="60.6" cy="531.4" r="1.1" fill="#dc5f5a"/>
<circle cx="62.6" cy="533.5" r="1.1" fill="#dc5f5a"/>
<circle cx="116" cy="482.5" r="1.1" fill="#10a9ad"/>
<circle cx="122" cy="482.5" r="1.1" fill="#10a9ad"/>
<circle cx="121.5" cy="502.7" r="1.1" fill="#10a9ad"/>
<circle cx="116" cy="508.8" r="1.1" fill="#10a9ad"/>
<circle cx="118.5" cy="515" r="1.1" fill="#10a9ad"/>
<circle cx="111.5" cy="524.8" r="1.1" fill="#10a9ad"/>
<circle cx="117.5" cy="522.6" r="1.1" fill="#10a9ad"/>
<circle cx="118" cy="528.2" r="1.1" fill="#10a9ad"/>
<circle cx="116.5" cy="531.5" r="1.1" fill="#10a9ad"/>
<circle cx="114.5" cy="536.3" r="1.1" fill="#10a9ad"/>
<circle cx="118.5" cy="535.2" r="1.1" fill="#10a9ad"/>
<circle cx="112.5" cy="521.4" r="1.1" fill="#10a9ad"/>
<path d="M60.8,425.6 L60.8,417.5 L120.2,417.5 L120.2,425.6" fill="none" stroke="#222" stroke-width="1.3"/>
<text x="73" y="415.1" font-size="9.2" fill="#1a1a1a" textLength="33.2" lengthAdjust="spacingAndGlyphs"><tspan font-style="italic">P</tspan> = 0.002</text>
<rect x="168.3" y="399.8" width="123.69999999999999" height="143.99999999999994" fill="#ebebeb"/>
<line x1="168.3" y1="523.3" x2="292.0" y2="523.3" stroke="#f5f5f5" stroke-width="0.5"/>
<line x1="168.3" y1="494.4" x2="292.0" y2="494.4" stroke="#f5f5f5" stroke-width="0.5"/>
<line x1="168.3" y1="465.6" x2="292.0" y2="465.6" stroke="#f5f5f5" stroke-width="0.5"/>
<line x1="168.3" y1="436.7" x2="292.0" y2="436.7" stroke="#f5f5f5" stroke-width="0.5"/>
<line x1="168.3" y1="407.9" x2="292.0" y2="407.9" stroke="#f5f5f5" stroke-width="0.5"/>
<line x1="168.3" y1="537.7" x2="292.0" y2="537.7" stroke="#ffffff" stroke-width="0.9"/>
<line x1="168.3" y1="508.9" x2="292.0" y2="508.9" stroke="#ffffff" stroke-width="0.9"/>
<line x1="168.3" y1="480.0" x2="292.0" y2="480.0" stroke="#ffffff" stroke-width="0.9"/>
<line x1="168.3" y1="451.2" x2="292.0" y2="451.2" stroke="#ffffff" stroke-width="0.9"/>
<line x1="168.3" y1="422.3" x2="292.0" y2="422.3" stroke="#ffffff" stroke-width="0.9"/>
<line x1="202.6" y1="399.8" x2="202.6" y2="543.8" stroke="#ffffff" stroke-width="0.9"/>
<line x1="259.1" y1="399.8" x2="259.1" y2="543.8" stroke="#ffffff" stroke-width="0.9"/>
<line x1="166.5" y1="537.7" x2="168.3" y2="537.7" stroke="#444" stroke-width="0.5"/>
<text x="166.0" y="539.4000000000001" font-size="4.8" text-anchor="end" fill="#707070">0</text>
<line x1="166.5" y1="508.9" x2="168.3" y2="508.9" stroke="#444" stroke-width="0.5"/>
<text x="166.0" y="510.55" font-size="4.8" text-anchor="end" fill="#707070">5</text>
<line x1="166.5" y1="480.0" x2="168.3" y2="480.0" stroke="#444" stroke-width="0.5"/>
<text x="166.0" y="481.70000000000005" font-size="4.8" text-anchor="end" fill="#707070">10</text>
<line x1="166.5" y1="451.2" x2="168.3" y2="451.2" stroke="#444" stroke-width="0.5"/>
<text x="166.0" y="452.85" font-size="4.8" text-anchor="end" fill="#707070">15</text>
<line x1="166.5" y1="422.3" x2="168.3" y2="422.3" stroke="#444" stroke-width="0.5"/>
<text x="166.0" y="424.00000000000006" font-size="4.8" text-anchor="end" fill="#707070">20</text>
<line x1="202.4" y1="508.0" x2="202.4" y2="522.0" stroke="#f8766d" stroke-width="0.6" stroke-opacity="0.7"/>
<line x1="202.4" y1="536.4" x2="202.4" y2="537.4" stroke="#f8766d" stroke-width="0.6" stroke-opacity="0.7"/>
<rect x="180.9" y="522.0" width="43.099999999999994" height="14.399999999999977" fill="#fff" stroke="#f8766d" stroke-width="0.75" stroke-opacity="0.8"/>
<line x1="180.9" y1="534.3" x2="224.0" y2="534.3" stroke="#f8766d" stroke-width="1.1"/>
<line x1="259.3" y1="451.1" x2="259.3" y2="482.1" stroke="#00bfc4" stroke-width="0.6" stroke-opacity="0.7"/>
<line x1="259.3" y1="510.0" x2="259.3" y2="520.3" stroke="#00bfc4" stroke-width="0.6" stroke-opacity="0.7"/>
<rect x="238.0" y="482.1" width="42.5" height="27.899999999999977" fill="#fff" stroke="#00bfc4" stroke-width="0.75" stroke-opacity="0.8"/>
<line x1="238.0" y1="501.5" x2="280.5" y2="501.5" stroke="#00bfc4" stroke-width="1.1"/>
<circle cx="197.5" cy="536.3" r="1.1" fill="#dc5f5a"/>
<circle cx="199.5" cy="536.6" r="1.1" fill="#dc5f5a"/>
<circle cx="201.5" cy="536.1" r="1.1" fill="#dc5f5a"/>
<circle cx="203.5" cy="536.5" r="1.1" fill="#dc5f5a"/>
<circle cx="205.5" cy="536.2" r="1.1" fill="#dc5f5a"/>
<circle cx="207" cy="536.6" r="1.1" fill="#dc5f5a"/>
<circle cx="198.5" cy="488.6" r="1.1" fill="#dc5f5a"/>
<circle cx="200.3" cy="489.6" r="1.1" fill="#dc5f5a"/>
<circle cx="202" cy="488.8" r="1.1" fill="#dc5f5a"/>
<circle cx="203.3" cy="490" r="1.1" fill="#dc5f5a"/>
<circle cx="202.6" cy="497" r="1.1" fill="#dc5f5a"/>
<circle cx="204.6" cy="497" r="1.1" fill="#dc5f5a"/>
<circle cx="201.5" cy="508.7" r="1.1" fill="#dc5f5a"/>
<circle cx="199.5" cy="513.1" r="1.1" fill="#dc5f5a"/>
<circle cx="207.5" cy="518.9" r="1.1" fill="#dc5f5a"/>
<circle cx="197.5" cy="522.5" r="1.1" fill="#dc5f5a"/>
<circle cx="201" cy="522.5" r="1.1" fill="#dc5f5a"/>
<circle cx="207.5" cy="525.7" r="1.1" fill="#dc5f5a"/>
<circle cx="198.5" cy="528" r="1.1" fill="#dc5f5a"/>
<circle cx="199.5" cy="532" r="1.1" fill="#dc5f5a"/>
<circle cx="204.5" cy="532" r="1.1" fill="#dc5f5a"/>
<circle cx="258.5" cy="405.4" r="1.1" fill="#10a9ad"/>
<circle cx="261.7" cy="451.4" r="1.1" fill="#10a9ad"/>
<circle cx="260" cy="460.4" r="1.1" fill="#10a9ad"/>
<circle cx="262.2" cy="489.8" r="1.1" fill="#10a9ad"/>
<circle cx="264" cy="495.3" r="1.1" fill="#10a9ad"/>
<circle cx="260" cy="497.7" r="1.1" fill="#10a9ad"/>
<circle cx="255" cy="507.2" r="1.1" fill="#10a9ad"/>
<circle cx="261.7" cy="505.7" r="1.1" fill="#10a9ad"/>
<circle cx="256.5" cy="509.8" r="1.1" fill="#10a9ad"/>
<circle cx="259.5" cy="509.8" r="1.1" fill="#10a9ad"/>
<circle cx="264" cy="509.8" r="1.1" fill="#10a9ad"/>
<circle cx="255.7" cy="521.9" r="1.1" fill="#10a9ad"/>
<path d="M201.2,423.8 L201.2,415.3 L260.3,415.3 L260.3,423.8" fill="none" stroke="#222" stroke-width="1.3"/>
<text x="209.2" y="412.3" font-size="9.2" fill="#1a1a1a" textLength="47" lengthAdjust="spacingAndGlyphs"><tspan font-style="italic">P</tspan> = 0.000037</text>
<rect x="315.2" y="399.8" width="122.80000000000001" height="143.99999999999994" fill="#ebebeb"/>
<line x1="315.2" y1="529.3" x2="438.0" y2="529.3" stroke="#f5f5f5" stroke-width="0.5"/>
<line x1="315.2" y1="489.3" x2="438.0" y2="489.3" stroke="#f5f5f5" stroke-width="0.5"/>
<line x1="315.2" y1="449.3" x2="438.0" y2="449.3" stroke="#f5f5f5" stroke-width="0.5"/>
<line x1="315.2" y1="409.3" x2="438.0" y2="409.3" stroke="#f5f5f5" stroke-width="0.5"/>
<line x1="315.2" y1="509.3" x2="438.0" y2="509.3" stroke="#ffffff" stroke-width="0.9"/>
<line x1="315.2" y1="469.3" x2="438.0" y2="469.3" stroke="#ffffff" stroke-width="0.9"/>
<line x1="315.2" y1="429.3" x2="438.0" y2="429.3" stroke="#ffffff" stroke-width="0.9"/>
<line x1="348.9" y1="399.8" x2="348.9" y2="543.8" stroke="#ffffff" stroke-width="0.9"/>
<line x1="404.8" y1="399.8" x2="404.8" y2="543.8" stroke="#ffffff" stroke-width="0.9"/>
<line x1="313.4" y1="509.3" x2="315.2" y2="509.3" stroke="#444" stroke-width="0.5"/>
<text x="312.6" y="511.0" font-size="4.8" text-anchor="end" fill="#707070">250</text>
<line x1="313.4" y1="469.3" x2="315.2" y2="469.3" stroke="#444" stroke-width="0.5"/>
<text x="312.6" y="471.0" font-size="4.8" text-anchor="end" fill="#707070">500</text>
<line x1="313.4" y1="429.3" x2="315.2" y2="429.3" stroke="#444" stroke-width="0.5"/>
<text x="312.6" y="431.0" font-size="4.8" text-anchor="end" fill="#707070">750</text>
<line x1="348.7" y1="476.0" x2="348.7" y2="492.5" stroke="#f8766d" stroke-width="0.6" stroke-opacity="0.7"/>
<line x1="348.7" y1="517.5" x2="348.7" y2="535.6" stroke="#f8766d" stroke-width="0.6" stroke-opacity="0.7"/>
<rect x="327.9" y="492.5" width="42.900000000000034" height="25.0" fill="#fff" stroke="#f8766d" stroke-width="0.75" stroke-opacity="0.8"/>
<line x1="327.9" y1="506.5" x2="370.8" y2="506.5" stroke="#f8766d" stroke-width="1.1"/>
<line x1="404.8" y1="467.0" x2="404.8" y2="485.1" stroke="#00bfc4" stroke-width="0.6" stroke-opacity="0.7"/>
<line x1="404.8" y1="499.3" x2="404.8" y2="506.0" stroke="#00bfc4" stroke-width="0.6" stroke-opacity="0.7"/>
<rect x="383.6" y="485.1" width="42.39999999999998" height="14.199999999999989" fill="#fff" stroke="#00bfc4" stroke-width="0.75" stroke-opacity="0.8"/>
<line x1="383.6" y1="495.7" x2="426.0" y2="495.7" stroke="#00bfc4" stroke-width="1.1"/>
<circle cx="348.5" cy="406" r="1.1" fill="#dc5f5a"/>
<circle cx="349" cy="446" r="1.1" fill="#dc5f5a"/>
<circle cx="354" cy="475.8" r="1.1" fill="#dc5f5a"/>
<circle cx="346.5" cy="483.3" r="1.1" fill="#dc5f5a"/>
<circle cx="351" cy="484.3" r="1.1" fill="#dc5f5a"/>
<circle cx="349.5" cy="487.5" r="1.1" fill="#dc5f5a"/>
<circle cx="353" cy="487.5" r="1.1" fill="#dc5f5a"/>
<circle cx="353.5" cy="491" r="1.1" fill="#dc5f5a"/>
<circle cx="345" cy="494.3" r="1.1" fill="#dc5f5a"/>
<circle cx="346" cy="498.5" r="1.1" fill="#dc5f5a"/>
<circle cx="352.5" cy="500.5" r="1.1" fill="#dc5f5a"/>
<circle cx="347" cy="502" r="1.1" fill="#dc5f5a"/>
<circle cx="349.5" cy="504.5" r="1.1" fill="#dc5f5a"/>
<circle cx="345" cy="505" r="1.1" fill="#dc5f5a"/>
<circle cx="345.5" cy="509" r="1.1" fill="#dc5f5a"/>
<circle cx="348" cy="513" r="1.1" fill="#dc5f5a"/>
<circle cx="345" cy="514" r="1.1" fill="#dc5f5a"/>
<circle cx="352.5" cy="516.5" r="1.1" fill="#dc5f5a"/>
<circle cx="352.5" cy="518.5" r="1.1" fill="#dc5f5a"/>
<circle cx="345" cy="522" r="1.1" fill="#dc5f5a"/>
<circle cx="348.5" cy="524" r="1.1" fill="#dc5f5a"/>
<circle cx="350.5" cy="524.5" r="1.1" fill="#dc5f5a"/>
<circle cx="354" cy="523" r="1.1" fill="#dc5f5a"/>
<circle cx="351.5" cy="527.5" r="1.1" fill="#dc5f5a"/>
<circle cx="349.5" cy="531" r="1.1" fill="#dc5f5a"/>
<circle cx="354.5" cy="537.5" r="1.1" fill="#dc5f5a"/>
<circle cx="406" cy="418.5" r="1.1" fill="#10a9ad"/>
<circle cx="403" cy="467" r="1.1" fill="#10a9ad"/>
<circle cx="404" cy="483" r="1.1" fill="#10a9ad"/>
<circle cx="399.5" cy="486.5" r="1.1" fill="#10a9ad"/>
<circle cx="401.5" cy="490.5" r="1.1" fill="#10a9ad"/>
<circle cx="405" cy="494" r="1.1" fill="#10a9ad"/>
<circle cx="407" cy="495" r="1.1" fill="#10a9ad"/>
<circle cx="402" cy="496" r="1.1" fill="#10a9ad"/>
<circle cx="404" cy="497.5" r="1.1" fill="#10a9ad"/>
<circle cx="405.5" cy="500.5" r="1.1" fill="#10a9ad"/>
<circle cx="403" cy="504.5" r="1.1" fill="#10a9ad"/>
<circle cx="400.6" cy="526.5" r="1.1" fill="#10a9ad"/>
<circle cx="404.8" cy="526.5" r="1.1" fill="#10a9ad"/>
<path d="M347.0,423.3 L347.0,415.5 L405.5,415.5 L405.5,423.3" fill="none" stroke="#222" stroke-width="1.3"/>
<text x="358.8" y="412.4" font-size="9.2" fill="#1a1a1a" textLength="28.7" lengthAdjust="spacingAndGlyphs"><tspan font-style="italic">P</tspan> = 0.04</text>
<line x1="60.6" y1="543.8" x2="60.6" y2="545.6" stroke="#666" stroke-width="0.5"/>
<line x1="116.6" y1="543.8" x2="116.6" y2="545.6" stroke="#666" stroke-width="0.5"/>
<line x1="202.6" y1="543.8" x2="202.6" y2="545.6" stroke="#666" stroke-width="0.5"/>
<line x1="259.1" y1="543.8" x2="259.1" y2="545.6" stroke="#666" stroke-width="0.5"/>
<line x1="348.9" y1="543.8" x2="348.9" y2="545.6" stroke="#666" stroke-width="0.5"/>
<line x1="404.8" y1="543.8" x2="404.8" y2="545.6" stroke="#666" stroke-width="0.5"/>
<text x="60.6" y="551.6" font-size="6.8" text-anchor="middle" textLength="30.8" lengthAdjust="spacingAndGlyphs" fill="#333">Insensitive</text>
<text x="116.6" y="551.6" font-size="6.8" text-anchor="middle" textLength="25.8" lengthAdjust="spacingAndGlyphs" fill="#333">Sensitive</text>
<text x="202.6" y="551.6" font-size="6.8" text-anchor="middle" textLength="30.8" lengthAdjust="spacingAndGlyphs" fill="#333">Insensitive</text>
<text x="259.1" y="551.6" font-size="6.8" text-anchor="middle" textLength="25.8" lengthAdjust="spacingAndGlyphs" fill="#333">Sensitive</text>
<text x="348.9" y="551.6" font-size="6.8" text-anchor="middle" textLength="30.8" lengthAdjust="spacingAndGlyphs" fill="#333">Insensitive</text>
<text x="404.8" y="551.6" font-size="6.8" text-anchor="middle" textLength="25.8" lengthAdjust="spacingAndGlyphs" fill="#333">Sensitive</text>
<text x="46.7" y="560.9" font-size="9.2" textLength="82.3" lengthAdjust="spacingAndGlyphs" fill="#222">PCA062 sensitivity call</text>
<text x="191.3" y="560.9" font-size="9.2" textLength="82.3" lengthAdjust="spacingAndGlyphs" fill="#222">PCA062 sensitivity call</text>
<text x="333.8" y="560.9" font-size="9.2" textLength="82.3" lengthAdjust="spacingAndGlyphs" fill="#222">PCA062 sensitivity call</text>
<text x="14.3" y="480" font-size="9.2" text-anchor="middle" textLength="46.5" lengthAdjust="spacingAndGlyphs" transform="rotate(-90 14.3 480)" fill="#1a1a1a">ABCC1 TPM</text>
<text x="159.8" y="486.2" font-size="9.6" text-anchor="middle" textLength="54" lengthAdjust="spacingAndGlyphs" transform="rotate(-90 159.8 486.2)" fill="#1a1a1a">SLC46A3 TPM</text>
<text x="302.1" y="480.4" font-size="9.8" text-anchor="middle" textLength="42.4" lengthAdjust="spacingAndGlyphs" transform="rotate(-90 302.1 480.4)" fill="#1a1a1a">CDH3 TPM</text>
<text x="445.4" y="417.4" font-size="9.7" textLength="73.8" lengthAdjust="spacingAndGlyphs" fill="#222">PCA062 sensitivity</text>
<rect x="447" y="424.6" width="10" height="8" fill="#f2f2f2"/>
<line x1="452" y1="424.6" x2="452" y2="432.6" stroke="#f8766d" stroke-width="0.7"/>
<rect x="448" y="426.20000000000005" width="8" height="4.8" fill="#fff" stroke="#f8766d" stroke-width="0.7"/>
<line x1="448" y1="428.6" x2="456" y2="428.6" stroke="#f8766d" stroke-width="0.8"/>
<circle cx="452" cy="428.6" r="1.2" fill="#f8766d"/>
<text x="460.8" y="431.6" font-size="9.0" textLength="38.9" lengthAdjust="spacingAndGlyphs" fill="#222">Insensitive</text>
<rect x="447" y="437.7" width="10" height="8" fill="#f2f2f2"/>
<line x1="452" y1="437.7" x2="452" y2="445.7" stroke="#00bfc4" stroke-width="0.7"/>
<rect x="448" y="439.3" width="8" height="4.8" fill="#fff" stroke="#00bfc4" stroke-width="0.7"/>
<line x1="448" y1="441.7" x2="456" y2="441.7" stroke="#00bfc4" stroke-width="0.8"/>
<circle cx="452" cy="441.7" r="1.2" fill="#00bfc4"/>
<text x="462.8" y="444.7" font-size="9.0" textLength="32.2" lengthAdjust="spacingAndGlyphs" fill="#222">Sensitive</text>
<text x="443.4" y="469.4" font-size="10.2" textLength="58.1" lengthAdjust="spacingAndGlyphs" fill="#1a1a1a">Wilcoxon test</text>
</svg>
</body></html>
